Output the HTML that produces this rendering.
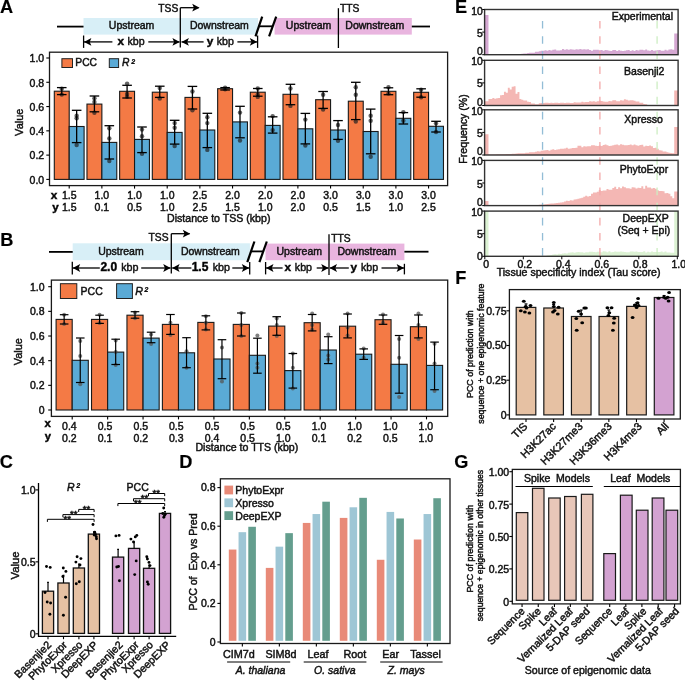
<!DOCTYPE html>
<html><head><meta charset="utf-8"><style>
html,body{margin:0;padding:0;background:#fff;}
svg{display:block;will-change:transform;}
text{font-family:"Liberation Sans",sans-serif;stroke:#111;stroke-width:0.45px;}
</style></head><body>
<svg width="685" height="680" viewBox="0 0 685 680">
<rect x="0" y="0" width="685" height="680" fill="#fff"/>
<text x="0" y="12.7" font-size="18.2" text-anchor="start" fill="#000" font-weight="bold" style="stroke-width:0.15px">A</text>
<text x="0.3" y="245.7" font-size="18.2" text-anchor="start" fill="#000" font-weight="bold" style="stroke-width:0.15px">B</text>
<text x="-0.3" y="468.3" font-size="18.2" text-anchor="start" fill="#000" font-weight="bold" style="stroke-width:0.15px">C</text>
<text x="179.2" y="468.1" font-size="18.2" text-anchor="start" fill="#000" font-weight="bold" style="stroke-width:0.15px">D</text>
<text x="455" y="13" font-size="18.2" text-anchor="start" fill="#000" font-weight="bold" style="stroke-width:0.15px">E</text>
<text x="455.2" y="283.7" font-size="18.2" text-anchor="start" fill="#000" font-weight="bold" style="stroke-width:0.15px">F</text>
<text x="454.3" y="468.3" font-size="18.2" text-anchor="start" fill="#000" font-weight="bold" style="stroke-width:0.15px">G</text>
<line x1="57" y1="26.6" x2="84" y2="26.6" stroke="#000" stroke-width="1.8" />
<rect x="83.5" y="18" width="174.5" height="16.6" fill="#d8eff7" />
<rect x="274.6" y="18" width="137.2" height="16.6" fill="#e9b5df" />
<line x1="411.8" y1="26.5" x2="430" y2="26.5" stroke="#000" stroke-width="1.8" />
<line x1="255.5" y1="36.3" x2="262.2" y2="16.6" stroke="#000" stroke-width="2.2" />
<line x1="269.1" y1="36.3" x2="276.2" y2="16.6" stroke="#000" stroke-width="2.2" />
<line x1="258.85" y1="26.3" x2="272.65" y2="26.3" stroke="#000" stroke-width="1.8" />
<text x="131.6" y="29.2" font-size="10.5" text-anchor="middle" fill="#111" >Upstream</text>
<text x="219.4" y="29.2" font-size="10.5" text-anchor="middle" fill="#111" >Downstream</text>
<text x="308.6" y="29.2" font-size="10.5" text-anchor="middle" fill="#111" >Upstream</text>
<text x="374.8" y="29.2" font-size="10.5" text-anchor="middle" fill="#111" >Downstream</text>
<line x1="180.3" y1="47.6" x2="180.3" y2="7.7" stroke="#000" stroke-width="1.3" />
<line x1="180.3" y1="7.7" x2="198.5" y2="7.7" stroke="#000" stroke-width="1.3" />
<path d="M199.6,7.7 L192.2,3.8 L193.9,7.7 L192.2,11.6 Z" fill="#000" stroke="none"/>
<text x="178.3" y="11.9" font-size="10.3" text-anchor="end" fill="#111" >TSS</text>
<line x1="338.4" y1="8.2" x2="338.4" y2="48" stroke="#000" stroke-width="1.3" />
<text x="340" y="12.4" font-size="10.3" text-anchor="start" fill="#111" >TTS</text>
<line x1="83.6" y1="35.5" x2="83.6" y2="47.9" stroke="#000" stroke-width="1.3" />
<line x1="257.6" y1="35.5" x2="257.6" y2="47.9" stroke="#000" stroke-width="1.3" />
<line x1="84" y1="41.9" x2="112.4" y2="41.9" stroke="#000" stroke-width="1.3" />
<path d="M84,41.9 L91.4,38 L89.7,41.9 L91.4,45.8 Z" fill="#000" stroke="none"/>
<line x1="148.3" y1="41.9" x2="179.5" y2="41.9" stroke="#000" stroke-width="1.3" />
<path d="M179.8,41.9 L172.4,38 L174.1,41.9 L172.4,45.8 Z" fill="#000" stroke="none"/>
<line x1="181.5" y1="41.9" x2="203.6" y2="41.9" stroke="#000" stroke-width="1.3" />
<path d="M181.5,41.9 L188.9,38 L187.2,41.9 L188.9,45.8 Z" fill="#000" stroke="none"/>
<line x1="237.4" y1="41.9" x2="257" y2="41.9" stroke="#000" stroke-width="1.3" />
<path d="M257.2,41.9 L249.8,38 L251.5,41.9 L249.8,45.8 Z" fill="#000" stroke="none"/>
<text x="117.6" y="44.8" font-size="11.8" text-anchor="start" fill="#000" font-weight="bold" >x</text>
<text x="127.5" y="44.8" font-size="10.6" text-anchor="start" fill="#111" >kbp</text>
<text x="206.8" y="44.8" font-size="11.8" text-anchor="start" fill="#000" font-weight="bold" >y</text>
<text x="216.8" y="44.8" font-size="10.6" text-anchor="start" fill="#111" >kbp</text>
<rect x="49.5" y="52.2" width="398.1" height="133.4" fill="#fff" stroke="#1a1a1a" stroke-width="1.3" />
<line x1="46.3" y1="179.4" x2="49.5" y2="179.4" stroke="#000" stroke-width="1.1" />
<text x="44.2" y="183.7" font-size="10.5" text-anchor="end" fill="#111" >0.0</text>
<line x1="46.3" y1="155.12" x2="49.5" y2="155.12" stroke="#000" stroke-width="1.1" />
<text x="44.2" y="159.42" font-size="10.5" text-anchor="end" fill="#111" >0.2</text>
<line x1="46.3" y1="130.84" x2="49.5" y2="130.84" stroke="#000" stroke-width="1.1" />
<text x="44.2" y="135.14" font-size="10.5" text-anchor="end" fill="#111" >0.4</text>
<line x1="46.3" y1="106.56" x2="49.5" y2="106.56" stroke="#000" stroke-width="1.1" />
<text x="44.2" y="110.86" font-size="10.5" text-anchor="end" fill="#111" >0.6</text>
<line x1="46.3" y1="82.28" x2="49.5" y2="82.28" stroke="#000" stroke-width="1.1" />
<text x="44.2" y="86.58" font-size="10.5" text-anchor="end" fill="#111" >0.8</text>
<line x1="46.3" y1="58" x2="49.5" y2="58" stroke="#000" stroke-width="1.1" />
<text x="44.2" y="62.3" font-size="10.5" text-anchor="end" fill="#111" >1.0</text>
<text x="23.3" y="122.2" font-size="11" text-anchor="middle" fill="#111" transform="rotate(-90 23.3 122.2)" >Value</text>
<rect x="61.9" y="58.7" width="10.6" height="8.8" fill="#f47a45" stroke="#222" stroke-width="1" />
<text x="75.3" y="66.3" font-size="10.3" text-anchor="start" fill="#111" >PCC</text>
<rect x="109.3" y="58.7" width="9.3" height="8.8" fill="#5aaad6" stroke="#222" stroke-width="1" />
<text x="122" y="66.3" font-size="10.3" text-anchor="start" fill="#111" font-style="italic" >R</text>
<text x="131.2" y="66.3" font-size="10.3" text-anchor="start" fill="#111" font-style="italic" >²</text>
<rect x="54.3" y="91.2" width="14.9" height="88.2" fill="#f47a45" stroke="#1a1a1a" stroke-width="1.1" />
<rect x="69.2" y="126.5" width="14.9" height="52.9" fill="#5aaad6" stroke="#1a1a1a" stroke-width="1.1" />
<rect x="86.97" y="104.1" width="14.9" height="75.3" fill="#f47a45" stroke="#1a1a1a" stroke-width="1.1" />
<rect x="101.87" y="142.4" width="14.9" height="37" fill="#5aaad6" stroke="#1a1a1a" stroke-width="1.1" />
<rect x="119.64" y="91.3" width="14.9" height="88.1" fill="#f47a45" stroke="#1a1a1a" stroke-width="1.1" />
<rect x="134.54" y="139.4" width="14.9" height="40" fill="#5aaad6" stroke="#1a1a1a" stroke-width="1.1" />
<rect x="152.31" y="92.2" width="14.9" height="87.2" fill="#f47a45" stroke="#1a1a1a" stroke-width="1.1" />
<rect x="167.21" y="132.4" width="14.9" height="47" fill="#5aaad6" stroke="#1a1a1a" stroke-width="1.1" />
<rect x="184.98" y="97.4" width="14.9" height="82" fill="#f47a45" stroke="#1a1a1a" stroke-width="1.1" />
<rect x="199.88" y="130" width="14.9" height="49.4" fill="#5aaad6" stroke="#1a1a1a" stroke-width="1.1" />
<rect x="217.65" y="88.7" width="14.9" height="90.7" fill="#f47a45" stroke="#1a1a1a" stroke-width="1.1" />
<rect x="232.55" y="121.9" width="14.9" height="57.5" fill="#5aaad6" stroke="#1a1a1a" stroke-width="1.1" />
<rect x="250.32" y="92.2" width="14.9" height="87.2" fill="#f47a45" stroke="#1a1a1a" stroke-width="1.1" />
<rect x="265.22" y="125.4" width="14.9" height="54" fill="#5aaad6" stroke="#1a1a1a" stroke-width="1.1" />
<rect x="282.99" y="94.3" width="14.9" height="85.1" fill="#f47a45" stroke="#1a1a1a" stroke-width="1.1" />
<rect x="297.89" y="128.8" width="14.9" height="50.6" fill="#5aaad6" stroke="#1a1a1a" stroke-width="1.1" />
<rect x="315.66" y="99.7" width="14.9" height="79.7" fill="#f47a45" stroke="#1a1a1a" stroke-width="1.1" />
<rect x="330.56" y="130" width="14.9" height="49.4" fill="#5aaad6" stroke="#1a1a1a" stroke-width="1.1" />
<rect x="348.33" y="101.2" width="14.9" height="78.2" fill="#f47a45" stroke="#1a1a1a" stroke-width="1.1" />
<rect x="363.23" y="131.5" width="14.9" height="47.9" fill="#5aaad6" stroke="#1a1a1a" stroke-width="1.1" />
<rect x="381" y="91.3" width="14.9" height="88.1" fill="#f47a45" stroke="#1a1a1a" stroke-width="1.1" />
<rect x="395.9" y="118.3" width="14.9" height="61.1" fill="#5aaad6" stroke="#1a1a1a" stroke-width="1.1" />
<rect x="413.67" y="92.3" width="14.9" height="87.1" fill="#f47a45" stroke="#1a1a1a" stroke-width="1.1" />
<rect x="428.57" y="126.3" width="14.9" height="53.1" fill="#5aaad6" stroke="#1a1a1a" stroke-width="1.1" />
<circle cx="61.75" cy="88.8" r="2.2" fill="#222" fill-opacity="0.7"/>
<circle cx="61.75" cy="94.6" r="2.2" fill="#222" fill-opacity="0.7"/>
<line x1="61.75" y1="87.6" x2="61.75" y2="94.6" stroke="#000" stroke-width="1.3" />
<line x1="56.95" y1="87.6" x2="66.55" y2="87.6" stroke="#000" stroke-width="1.3" />
<line x1="56.95" y1="94.6" x2="66.55" y2="94.6" stroke="#000" stroke-width="1.3" />
<circle cx="76.65" cy="115.8" r="2.2" fill="#222" fill-opacity="0.7"/>
<circle cx="76.65" cy="118.2" r="2.2" fill="#222" fill-opacity="0.7"/>
<circle cx="76.65" cy="145" r="2.2" fill="#222" fill-opacity="0.7"/>
<line x1="76.65" y1="110.3" x2="76.65" y2="142.6" stroke="#000" stroke-width="1.3" />
<line x1="71.85" y1="110.3" x2="81.45" y2="110.3" stroke="#000" stroke-width="1.3" />
<line x1="71.85" y1="142.6" x2="81.45" y2="142.6" stroke="#000" stroke-width="1.3" />
<line x1="69.2" y1="185.6" x2="69.2" y2="188.6" stroke="#000" stroke-width="1.1" />
<text x="69.2" y="199.2" font-size="10.5" text-anchor="middle" fill="#111" >1.5</text>
<text x="69.2" y="210.9" font-size="10.5" text-anchor="middle" fill="#111" >1.5</text>
<circle cx="94.42" cy="98.2" r="2.2" fill="#222" fill-opacity="0.7"/>
<circle cx="94.42" cy="101.9" r="2.2" fill="#222" fill-opacity="0.7"/>
<circle cx="94.42" cy="112.8" r="2.2" fill="#222" fill-opacity="0.7"/>
<line x1="94.42" y1="96" x2="94.42" y2="111.8" stroke="#000" stroke-width="1.3" />
<line x1="89.62" y1="96" x2="99.22" y2="96" stroke="#000" stroke-width="1.3" />
<line x1="89.62" y1="111.8" x2="99.22" y2="111.8" stroke="#000" stroke-width="1.3" />
<circle cx="109.32" cy="128.2" r="2.2" fill="#222" fill-opacity="0.7"/>
<circle cx="109.32" cy="138.4" r="2.2" fill="#222" fill-opacity="0.7"/>
<circle cx="109.32" cy="161" r="2.2" fill="#222" fill-opacity="0.7"/>
<line x1="109.32" y1="125.7" x2="109.32" y2="159" stroke="#000" stroke-width="1.3" />
<line x1="104.52" y1="125.7" x2="114.12" y2="125.7" stroke="#000" stroke-width="1.3" />
<line x1="104.52" y1="159" x2="114.12" y2="159" stroke="#000" stroke-width="1.3" />
<line x1="101.87" y1="185.6" x2="101.87" y2="188.6" stroke="#000" stroke-width="1.1" />
<text x="101.87" y="199.2" font-size="10.5" text-anchor="middle" fill="#111" >1.0</text>
<text x="101.87" y="210.9" font-size="10.5" text-anchor="middle" fill="#111" >0.1</text>
<circle cx="127.09" cy="83.6" r="2.2" fill="#222" fill-opacity="0.7"/>
<circle cx="127.09" cy="93.9" r="2.2" fill="#222" fill-opacity="0.7"/>
<circle cx="127.09" cy="96.8" r="2.2" fill="#222" fill-opacity="0.7"/>
<line x1="127.09" y1="85.3" x2="127.09" y2="98" stroke="#000" stroke-width="1.3" />
<line x1="122.29" y1="85.3" x2="131.89" y2="85.3" stroke="#000" stroke-width="1.3" />
<line x1="122.29" y1="98" x2="131.89" y2="98" stroke="#000" stroke-width="1.3" />
<circle cx="141.99" cy="129.6" r="2.2" fill="#222" fill-opacity="0.7"/>
<circle cx="141.99" cy="136.2" r="2.2" fill="#222" fill-opacity="0.7"/>
<circle cx="141.99" cy="153.7" r="2.2" fill="#222" fill-opacity="0.7"/>
<line x1="141.99" y1="127" x2="141.99" y2="152.6" stroke="#000" stroke-width="1.3" />
<line x1="137.19" y1="127" x2="146.79" y2="127" stroke="#000" stroke-width="1.3" />
<line x1="137.19" y1="152.6" x2="146.79" y2="152.6" stroke="#000" stroke-width="1.3" />
<line x1="134.54" y1="185.6" x2="134.54" y2="188.6" stroke="#000" stroke-width="1.1" />
<text x="134.54" y="199.2" font-size="10.5" text-anchor="middle" fill="#111" >1.0</text>
<text x="134.54" y="210.9" font-size="10.5" text-anchor="middle" fill="#111" >0.5</text>
<circle cx="159.76" cy="88" r="2.2" fill="#222" fill-opacity="0.7"/>
<circle cx="159.76" cy="98.5" r="2.2" fill="#222" fill-opacity="0.7"/>
<line x1="159.76" y1="86.2" x2="159.76" y2="97.4" stroke="#000" stroke-width="1.3" />
<line x1="154.96" y1="86.2" x2="164.56" y2="86.2" stroke="#000" stroke-width="1.3" />
<line x1="154.96" y1="97.4" x2="164.56" y2="97.4" stroke="#000" stroke-width="1.3" />
<circle cx="174.66" cy="123.1" r="2.2" fill="#222" fill-opacity="0.7"/>
<circle cx="174.66" cy="127.7" r="2.2" fill="#222" fill-opacity="0.7"/>
<circle cx="174.66" cy="146" r="2.2" fill="#222" fill-opacity="0.7"/>
<line x1="174.66" y1="120.3" x2="174.66" y2="144.1" stroke="#000" stroke-width="1.3" />
<line x1="169.86" y1="120.3" x2="179.46" y2="120.3" stroke="#000" stroke-width="1.3" />
<line x1="169.86" y1="144.1" x2="179.46" y2="144.1" stroke="#000" stroke-width="1.3" />
<line x1="167.21" y1="185.6" x2="167.21" y2="188.6" stroke="#000" stroke-width="1.1" />
<text x="167.21" y="199.2" font-size="10.5" text-anchor="middle" fill="#111" >1.0</text>
<text x="167.21" y="210.9" font-size="10.5" text-anchor="middle" fill="#111" >1.0</text>
<circle cx="192.43" cy="91.5" r="2.2" fill="#222" fill-opacity="0.7"/>
<circle cx="192.43" cy="110.2" r="2.2" fill="#222" fill-opacity="0.7"/>
<line x1="192.43" y1="86.4" x2="192.43" y2="109" stroke="#000" stroke-width="1.3" />
<line x1="187.63" y1="86.4" x2="197.23" y2="86.4" stroke="#000" stroke-width="1.3" />
<line x1="187.63" y1="109" x2="197.23" y2="109" stroke="#000" stroke-width="1.3" />
<circle cx="207.33" cy="117.2" r="2.2" fill="#222" fill-opacity="0.7"/>
<circle cx="207.33" cy="123.1" r="2.2" fill="#222" fill-opacity="0.7"/>
<circle cx="207.33" cy="149.9" r="2.2" fill="#222" fill-opacity="0.7"/>
<line x1="207.33" y1="113.3" x2="207.33" y2="147.6" stroke="#000" stroke-width="1.3" />
<line x1="202.53" y1="113.3" x2="212.13" y2="113.3" stroke="#000" stroke-width="1.3" />
<line x1="202.53" y1="147.6" x2="212.13" y2="147.6" stroke="#000" stroke-width="1.3" />
<line x1="199.88" y1="185.6" x2="199.88" y2="188.6" stroke="#000" stroke-width="1.1" />
<text x="199.88" y="199.2" font-size="10.5" text-anchor="middle" fill="#111" >2.5</text>
<text x="199.88" y="210.9" font-size="10.5" text-anchor="middle" fill="#111" >2.5</text>
<circle cx="225.1" cy="87.6" r="2.2" fill="#222" fill-opacity="0.7"/>
<circle cx="225.1" cy="89.2" r="2.2" fill="#222" fill-opacity="0.7"/>
<line x1="225.1" y1="87.6" x2="225.1" y2="90" stroke="#000" stroke-width="1.3" />
<line x1="220.3" y1="87.6" x2="229.9" y2="87.6" stroke="#000" stroke-width="1.3" />
<line x1="220.3" y1="90" x2="229.9" y2="90" stroke="#000" stroke-width="1.3" />
<circle cx="240" cy="112.6" r="2.2" fill="#222" fill-opacity="0.7"/>
<circle cx="240" cy="140.6" r="2.2" fill="#222" fill-opacity="0.7"/>
<line x1="240" y1="106.3" x2="240" y2="137.8" stroke="#000" stroke-width="1.3" />
<line x1="235.2" y1="106.3" x2="244.8" y2="106.3" stroke="#000" stroke-width="1.3" />
<line x1="235.2" y1="137.8" x2="244.8" y2="137.8" stroke="#000" stroke-width="1.3" />
<line x1="232.55" y1="185.6" x2="232.55" y2="188.6" stroke="#000" stroke-width="1.1" />
<text x="232.55" y="199.2" font-size="10.5" text-anchor="middle" fill="#111" >2.0</text>
<text x="232.55" y="210.9" font-size="10.5" text-anchor="middle" fill="#111" >1.5</text>
<circle cx="257.77" cy="88.5" r="2.2" fill="#222" fill-opacity="0.7"/>
<circle cx="257.77" cy="94.6" r="2.2" fill="#222" fill-opacity="0.7"/>
<circle cx="257.77" cy="96.9" r="2.2" fill="#222" fill-opacity="0.7"/>
<line x1="257.77" y1="88.5" x2="257.77" y2="96.2" stroke="#000" stroke-width="1.3" />
<line x1="252.97" y1="88.5" x2="262.57" y2="88.5" stroke="#000" stroke-width="1.3" />
<line x1="252.97" y1="96.2" x2="262.57" y2="96.2" stroke="#000" stroke-width="1.3" />
<circle cx="272.67" cy="116.1" r="2.2" fill="#222" fill-opacity="0.7"/>
<circle cx="272.67" cy="130.1" r="2.2" fill="#222" fill-opacity="0.7"/>
<line x1="272.67" y1="116.8" x2="272.67" y2="133.1" stroke="#000" stroke-width="1.3" />
<line x1="267.87" y1="116.8" x2="277.47" y2="116.8" stroke="#000" stroke-width="1.3" />
<line x1="267.87" y1="133.1" x2="277.47" y2="133.1" stroke="#000" stroke-width="1.3" />
<line x1="265.22" y1="185.6" x2="265.22" y2="188.6" stroke="#000" stroke-width="1.1" />
<text x="265.22" y="199.2" font-size="10.5" text-anchor="middle" fill="#111" >2.0</text>
<text x="265.22" y="210.9" font-size="10.5" text-anchor="middle" fill="#111" >1.0</text>
<circle cx="290.44" cy="88.5" r="2.2" fill="#222" fill-opacity="0.7"/>
<circle cx="290.44" cy="105.9" r="2.2" fill="#222" fill-opacity="0.7"/>
<line x1="290.44" y1="84.3" x2="290.44" y2="104.7" stroke="#000" stroke-width="1.3" />
<line x1="285.64" y1="84.3" x2="295.24" y2="84.3" stroke="#000" stroke-width="1.3" />
<line x1="285.64" y1="104.7" x2="295.24" y2="104.7" stroke="#000" stroke-width="1.3" />
<circle cx="305.34" cy="119.6" r="2.2" fill="#222" fill-opacity="0.7"/>
<circle cx="305.34" cy="145.6" r="2.2" fill="#222" fill-opacity="0.7"/>
<line x1="305.34" y1="113.4" x2="305.34" y2="143.9" stroke="#000" stroke-width="1.3" />
<line x1="300.54" y1="113.4" x2="310.14" y2="113.4" stroke="#000" stroke-width="1.3" />
<line x1="300.54" y1="143.9" x2="310.14" y2="143.9" stroke="#000" stroke-width="1.3" />
<line x1="297.89" y1="185.6" x2="297.89" y2="188.6" stroke="#000" stroke-width="1.1" />
<text x="297.89" y="199.2" font-size="10.5" text-anchor="middle" fill="#111" >2.0</text>
<text x="297.89" y="210.9" font-size="10.5" text-anchor="middle" fill="#111" >2.0</text>
<circle cx="323.11" cy="94.7" r="2.2" fill="#222" fill-opacity="0.7"/>
<circle cx="323.11" cy="109.6" r="2.2" fill="#222" fill-opacity="0.7"/>
<line x1="323.11" y1="91.5" x2="323.11" y2="108.4" stroke="#000" stroke-width="1.3" />
<line x1="318.31" y1="91.5" x2="327.91" y2="91.5" stroke="#000" stroke-width="1.3" />
<line x1="318.31" y1="108.4" x2="327.91" y2="108.4" stroke="#000" stroke-width="1.3" />
<circle cx="338.01" cy="125" r="2.2" fill="#222" fill-opacity="0.7"/>
<circle cx="338.01" cy="140.7" r="2.2" fill="#222" fill-opacity="0.7"/>
<line x1="338.01" y1="120.6" x2="338.01" y2="139.4" stroke="#000" stroke-width="1.3" />
<line x1="333.21" y1="120.6" x2="342.81" y2="120.6" stroke="#000" stroke-width="1.3" />
<line x1="333.21" y1="139.4" x2="342.81" y2="139.4" stroke="#000" stroke-width="1.3" />
<line x1="330.56" y1="185.6" x2="330.56" y2="188.6" stroke="#000" stroke-width="1.1" />
<text x="330.56" y="199.2" font-size="10.5" text-anchor="middle" fill="#111" >3.0</text>
<text x="330.56" y="210.9" font-size="10.5" text-anchor="middle" fill="#111" >0.5</text>
<circle cx="355.78" cy="87.3" r="2.2" fill="#222" fill-opacity="0.7"/>
<circle cx="355.78" cy="94.7" r="2.2" fill="#222" fill-opacity="0.7"/>
<circle cx="355.78" cy="121.6" r="2.2" fill="#222" fill-opacity="0.7"/>
<line x1="355.78" y1="82.3" x2="355.78" y2="119.6" stroke="#000" stroke-width="1.3" />
<line x1="350.98" y1="82.3" x2="360.58" y2="82.3" stroke="#000" stroke-width="1.3" />
<line x1="350.98" y1="119.6" x2="360.58" y2="119.6" stroke="#000" stroke-width="1.3" />
<circle cx="370.68" cy="115.8" r="2.2" fill="#222" fill-opacity="0.7"/>
<circle cx="370.68" cy="120.8" r="2.2" fill="#222" fill-opacity="0.7"/>
<circle cx="370.68" cy="156.8" r="2.2" fill="#222" fill-opacity="0.7"/>
<line x1="370.68" y1="109.1" x2="370.68" y2="153.8" stroke="#000" stroke-width="1.3" />
<line x1="365.88" y1="109.1" x2="375.48" y2="109.1" stroke="#000" stroke-width="1.3" />
<line x1="365.88" y1="153.8" x2="375.48" y2="153.8" stroke="#000" stroke-width="1.3" />
<line x1="363.23" y1="185.6" x2="363.23" y2="188.6" stroke="#000" stroke-width="1.1" />
<text x="363.23" y="199.2" font-size="10.5" text-anchor="middle" fill="#111" >3.0</text>
<text x="363.23" y="210.9" font-size="10.5" text-anchor="middle" fill="#111" >1.5</text>
<circle cx="388.45" cy="87.3" r="2.2" fill="#222" fill-opacity="0.7"/>
<circle cx="388.45" cy="93.5" r="2.2" fill="#222" fill-opacity="0.7"/>
<line x1="388.45" y1="87.8" x2="388.45" y2="94.7" stroke="#000" stroke-width="1.3" />
<line x1="383.65" y1="87.8" x2="393.25" y2="87.8" stroke="#000" stroke-width="1.3" />
<line x1="383.65" y1="94.7" x2="393.25" y2="94.7" stroke="#000" stroke-width="1.3" />
<circle cx="403.35" cy="112.1" r="2.2" fill="#222" fill-opacity="0.7"/>
<circle cx="403.35" cy="120.8" r="2.2" fill="#222" fill-opacity="0.7"/>
<line x1="403.35" y1="112.6" x2="403.35" y2="124" stroke="#000" stroke-width="1.3" />
<line x1="398.55" y1="112.6" x2="408.15" y2="112.6" stroke="#000" stroke-width="1.3" />
<line x1="398.55" y1="124" x2="408.15" y2="124" stroke="#000" stroke-width="1.3" />
<line x1="395.9" y1="185.6" x2="395.9" y2="188.6" stroke="#000" stroke-width="1.1" />
<text x="395.9" y="199.2" font-size="10.5" text-anchor="middle" fill="#111" >3.0</text>
<text x="395.9" y="210.9" font-size="10.5" text-anchor="middle" fill="#111" >1.0</text>
<circle cx="421.12" cy="89.8" r="2.2" fill="#222" fill-opacity="0.7"/>
<circle cx="421.12" cy="97.2" r="2.2" fill="#222" fill-opacity="0.7"/>
<line x1="421.12" y1="88.8" x2="421.12" y2="97.2" stroke="#000" stroke-width="1.3" />
<line x1="416.32" y1="88.8" x2="425.92" y2="88.8" stroke="#000" stroke-width="1.3" />
<line x1="416.32" y1="97.2" x2="425.92" y2="97.2" stroke="#000" stroke-width="1.3" />
<circle cx="436.02" cy="123.3" r="2.2" fill="#222" fill-opacity="0.7"/>
<circle cx="436.02" cy="132" r="2.2" fill="#222" fill-opacity="0.7"/>
<line x1="436.02" y1="121.3" x2="436.02" y2="132" stroke="#000" stroke-width="1.3" />
<line x1="431.22" y1="121.3" x2="440.82" y2="121.3" stroke="#000" stroke-width="1.3" />
<line x1="431.22" y1="132" x2="440.82" y2="132" stroke="#000" stroke-width="1.3" />
<line x1="428.57" y1="185.6" x2="428.57" y2="188.6" stroke="#000" stroke-width="1.1" />
<text x="428.57" y="199.2" font-size="10.5" text-anchor="middle" fill="#111" >3.0</text>
<text x="428.57" y="210.9" font-size="10.5" text-anchor="middle" fill="#111" >2.5</text>
<text x="57.4" y="199.2" font-size="11.8" text-anchor="end" fill="#000" font-weight="bold" >x</text>
<text x="58.6" y="210.9" font-size="11.6" text-anchor="end" fill="#000" font-weight="bold" >y</text>
<text x="167" y="222.1" font-size="10.6" text-anchor="start" fill="#111" >Distance to TSS (kbp)</text>
<line x1="49" y1="251.9" x2="73" y2="251.9" stroke="#000" stroke-width="1.8" />
<rect x="72.7" y="243.3" width="177.2" height="16.9" fill="#d8eff7" />
<rect x="265.5" y="243.6" width="138.9" height="16.6" fill="#e9b5df" />
<line x1="404.4" y1="251.7" x2="428.5" y2="251.7" stroke="#000" stroke-width="1.8" />
<line x1="247.3" y1="262.2" x2="254.4" y2="241.5" stroke="#000" stroke-width="2.2" />
<line x1="259.4" y1="262.2" x2="266.8" y2="241.5" stroke="#000" stroke-width="2.2" />
<line x1="250.85" y1="251.4" x2="263.1" y2="251.4" stroke="#000" stroke-width="1.8" />
<text x="120.9" y="254.6" font-size="10.5" text-anchor="middle" fill="#111" >Upstream</text>
<text x="210.4" y="254.6" font-size="10.5" text-anchor="middle" fill="#111" >Downstream</text>
<text x="299.3" y="254.6" font-size="10.5" text-anchor="middle" fill="#111" >Upstream</text>
<text x="366.9" y="254.6" font-size="10.5" text-anchor="middle" fill="#111" >Downstream</text>
<line x1="171.3" y1="273.6" x2="171.3" y2="233.7" stroke="#000" stroke-width="1.3" />
<line x1="171.3" y1="233.7" x2="189.6" y2="233.7" stroke="#000" stroke-width="1.3" />
<path d="M190.2,233.7 L182.8,229.8 L184.5,233.7 L182.8,237.6 Z" fill="#000" stroke="none"/>
<text x="168.6" y="241.2" font-size="10.3" text-anchor="end" fill="#111" >TSS</text>
<line x1="329" y1="234.2" x2="329" y2="275" stroke="#000" stroke-width="1.3" />
<text x="331.2" y="241.5" font-size="10.3" text-anchor="start" fill="#111" >TTS</text>
<line x1="72.3" y1="261.7" x2="72.3" y2="274.4" stroke="#000" stroke-width="1.3" />
<line x1="249.7" y1="262" x2="249.7" y2="274.4" stroke="#000" stroke-width="1.3" />
<line x1="265.6" y1="262" x2="265.6" y2="274.4" stroke="#000" stroke-width="1.3" />
<line x1="404.4" y1="263.8" x2="404.4" y2="274.4" stroke="#000" stroke-width="1.3" />
<line x1="72.8" y1="268" x2="99.8" y2="268" stroke="#000" stroke-width="1.3" />
<path d="M72.8,268 L80.2,264.1 L78.5,268 L80.2,271.9 Z" fill="#000" stroke="none"/>
<line x1="141.2" y1="268" x2="170.5" y2="268" stroke="#000" stroke-width="1.3" />
<path d="M170.6,268 L163.2,264.1 L164.9,268 L163.2,271.9 Z" fill="#000" stroke="none"/>
<line x1="172.2" y1="268" x2="191.4" y2="268" stroke="#000" stroke-width="1.3" />
<path d="M172.2,268 L179.6,264.1 L177.9,268 L179.6,271.9 Z" fill="#000" stroke="none"/>
<line x1="232.3" y1="268" x2="249" y2="268" stroke="#000" stroke-width="1.3" />
<path d="M249.2,268 L241.8,264.1 L243.5,268 L241.8,271.9 Z" fill="#000" stroke="none"/>
<line x1="266" y1="268" x2="282.6" y2="268" stroke="#000" stroke-width="1.3" />
<path d="M266.1,268 L273.5,264.1 L271.8,268 L273.5,271.9 Z" fill="#000" stroke="none"/>
<line x1="316.7" y1="268" x2="328.5" y2="268" stroke="#000" stroke-width="1.3" />
<path d="M328.6,268 L321.2,264.1 L322.9,268 L321.2,271.9 Z" fill="#000" stroke="none"/>
<line x1="330" y1="268" x2="348.8" y2="268" stroke="#000" stroke-width="1.3" />
<path d="M329.6,268 L337,264.1 L335.3,268 L337,271.9 Z" fill="#000" stroke="none"/>
<line x1="381.5" y1="268" x2="404" y2="268" stroke="#000" stroke-width="1.3" />
<path d="M404,268 L396.6,264.1 L398.3,268 L396.6,271.9 Z" fill="#000" stroke="none"/>
<text x="100.4" y="271.2" font-size="12" text-anchor="start" fill="#000" font-weight="bold" >2.0</text>
<text x="121.2" y="271.2" font-size="10.7" text-anchor="start" fill="#111" >kbp</text>
<text x="191.7" y="271.2" font-size="12" text-anchor="start" fill="#000" font-weight="bold" >1.5</text>
<text x="212.7" y="271.2" font-size="10.7" text-anchor="start" fill="#111" >kbp</text>
<text x="284.4" y="271.2" font-size="11.8" text-anchor="start" fill="#000" font-weight="bold" >x</text>
<text x="294.8" y="271.2" font-size="10.7" text-anchor="start" fill="#111" >kbp</text>
<text x="350.5" y="271.2" font-size="11.8" text-anchor="start" fill="#000" font-weight="bold" >y</text>
<text x="361" y="271.2" font-size="10.7" text-anchor="start" fill="#111" >kbp</text>
<rect x="51.4" y="280.1" width="396.3" height="136.3" fill="#fff" stroke="#1a1a1a" stroke-width="1.3" />
<line x1="48.2" y1="410" x2="51.4" y2="410" stroke="#000" stroke-width="1.1" />
<text x="44.5" y="414" font-size="10.5" text-anchor="end" fill="#111" >0</text>
<line x1="48.2" y1="385.34" x2="51.4" y2="385.34" stroke="#000" stroke-width="1.1" />
<text x="44.5" y="389.34" font-size="10.5" text-anchor="end" fill="#111" >0.2</text>
<line x1="48.2" y1="360.68" x2="51.4" y2="360.68" stroke="#000" stroke-width="1.1" />
<text x="44.5" y="364.68" font-size="10.5" text-anchor="end" fill="#111" >0.4</text>
<line x1="48.2" y1="336.02" x2="51.4" y2="336.02" stroke="#000" stroke-width="1.1" />
<text x="44.5" y="340.02" font-size="10.5" text-anchor="end" fill="#111" >0.6</text>
<line x1="48.2" y1="311.36" x2="51.4" y2="311.36" stroke="#000" stroke-width="1.1" />
<text x="44.5" y="315.36" font-size="10.5" text-anchor="end" fill="#111" >0.8</text>
<line x1="48.2" y1="286.7" x2="51.4" y2="286.7" stroke="#000" stroke-width="1.1" />
<text x="44.5" y="290.7" font-size="10.5" text-anchor="end" fill="#111" >1.0</text>
<text x="21.9" y="351.7" font-size="11" text-anchor="middle" fill="#111" transform="rotate(-90 21.9 351.7)" >Value</text>
<rect x="60.4" y="283.7" width="16.4" height="14.8" fill="#f47a45" stroke="#222" stroke-width="1" />
<text x="80.6" y="294.8" font-size="10.5" text-anchor="start" fill="#111" >PCC</text>
<rect x="116.6" y="283.7" width="15.8" height="14.8" fill="#5aaad6" stroke="#222" stroke-width="1" />
<text x="135.3" y="294.8" font-size="10.8" text-anchor="start" fill="#111" font-style="italic" >R</text>
<text x="144.3" y="294.8" font-size="10.8" text-anchor="start" fill="#111" font-style="italic" >²</text>
<rect x="56.1" y="319.4" width="16.1" height="90.6" fill="#f47a45" stroke="#1a1a1a" stroke-width="1.1" />
<rect x="72.2" y="360.3" width="16.1" height="49.7" fill="#5aaad6" stroke="#1a1a1a" stroke-width="1.1" />
<rect x="91.53" y="319.4" width="16.1" height="90.6" fill="#f47a45" stroke="#1a1a1a" stroke-width="1.1" />
<rect x="107.63" y="352.1" width="16.1" height="57.9" fill="#5aaad6" stroke="#1a1a1a" stroke-width="1.1" />
<rect x="126.96" y="315.2" width="16.1" height="94.8" fill="#f47a45" stroke="#1a1a1a" stroke-width="1.1" />
<rect x="143.06" y="338.1" width="16.1" height="71.9" fill="#5aaad6" stroke="#1a1a1a" stroke-width="1.1" />
<rect x="162.39" y="324.4" width="16.1" height="85.6" fill="#f47a45" stroke="#1a1a1a" stroke-width="1.1" />
<rect x="178.49" y="352.8" width="16.1" height="57.2" fill="#5aaad6" stroke="#1a1a1a" stroke-width="1.1" />
<rect x="197.82" y="322.4" width="16.1" height="87.6" fill="#f47a45" stroke="#1a1a1a" stroke-width="1.1" />
<rect x="213.92" y="359" width="16.1" height="51" fill="#5aaad6" stroke="#1a1a1a" stroke-width="1.1" />
<rect x="233.25" y="324.4" width="16.1" height="85.6" fill="#f47a45" stroke="#1a1a1a" stroke-width="1.1" />
<rect x="249.35" y="355.3" width="16.1" height="54.7" fill="#5aaad6" stroke="#1a1a1a" stroke-width="1.1" />
<rect x="268.68" y="326.1" width="16.1" height="83.9" fill="#f47a45" stroke="#1a1a1a" stroke-width="1.1" />
<rect x="284.78" y="370.6" width="16.1" height="39.4" fill="#5aaad6" stroke="#1a1a1a" stroke-width="1.1" />
<rect x="304.11" y="322.7" width="16.1" height="87.3" fill="#f47a45" stroke="#1a1a1a" stroke-width="1.1" />
<rect x="320.21" y="350" width="16.1" height="60" fill="#5aaad6" stroke="#1a1a1a" stroke-width="1.1" />
<rect x="339.54" y="326.2" width="16.1" height="83.8" fill="#f47a45" stroke="#1a1a1a" stroke-width="1.1" />
<rect x="355.64" y="354.2" width="16.1" height="55.8" fill="#5aaad6" stroke="#1a1a1a" stroke-width="1.1" />
<rect x="374.97" y="319.7" width="16.1" height="90.3" fill="#f47a45" stroke="#1a1a1a" stroke-width="1.1" />
<rect x="391.07" y="364.3" width="16.1" height="45.7" fill="#5aaad6" stroke="#1a1a1a" stroke-width="1.1" />
<rect x="410.4" y="326.7" width="16.1" height="83.3" fill="#f47a45" stroke="#1a1a1a" stroke-width="1.1" />
<rect x="426.5" y="365.4" width="16.1" height="44.6" fill="#5aaad6" stroke="#1a1a1a" stroke-width="1.1" />
<circle cx="64.15" cy="314.7" r="2" fill="#555" fill-opacity="0.75"/>
<circle cx="64.15" cy="324" r="2" fill="#555" fill-opacity="0.75"/>
<line x1="64.15" y1="314.7" x2="64.15" y2="324" stroke="#000" stroke-width="1.2" />
<line x1="59.85" y1="314.7" x2="68.45" y2="314.7" stroke="#000" stroke-width="1.2" />
<line x1="59.85" y1="324" x2="68.45" y2="324" stroke="#000" stroke-width="1.2" />
<circle cx="80.25" cy="340.9" r="2" fill="#555" fill-opacity="0.75"/>
<circle cx="80.25" cy="356.1" r="2" fill="#555" fill-opacity="0.75"/>
<circle cx="80.25" cy="384.3" r="2" fill="#555" fill-opacity="0.75"/>
<line x1="80.25" y1="338" x2="80.25" y2="382.5" stroke="#000" stroke-width="1.2" />
<line x1="75.95" y1="338" x2="84.55" y2="338" stroke="#000" stroke-width="1.2" />
<line x1="75.95" y1="382.5" x2="84.55" y2="382.5" stroke="#000" stroke-width="1.2" />
<line x1="72.2" y1="416.4" x2="72.2" y2="419.4" stroke="#000" stroke-width="1.1" />
<text x="69.4" y="429.8" font-size="10.5" text-anchor="middle" fill="#111" >0.4</text>
<text x="69.4" y="441.6" font-size="10.5" text-anchor="middle" fill="#111" >0.2</text>
<circle cx="99.58" cy="314.7" r="2" fill="#555" fill-opacity="0.75"/>
<circle cx="99.58" cy="322.9" r="2" fill="#555" fill-opacity="0.75"/>
<line x1="99.58" y1="315.2" x2="99.58" y2="323.4" stroke="#000" stroke-width="1.2" />
<line x1="95.28" y1="315.2" x2="103.88" y2="315.2" stroke="#000" stroke-width="1.2" />
<line x1="95.28" y1="323.4" x2="103.88" y2="323.4" stroke="#000" stroke-width="1.2" />
<circle cx="115.68" cy="340.4" r="2" fill="#555" fill-opacity="0.75"/>
<circle cx="115.68" cy="352.1" r="2" fill="#555" fill-opacity="0.75"/>
<circle cx="115.68" cy="364.9" r="2" fill="#555" fill-opacity="0.75"/>
<line x1="115.68" y1="339.2" x2="115.68" y2="364.5" stroke="#000" stroke-width="1.2" />
<line x1="111.38" y1="339.2" x2="119.98" y2="339.2" stroke="#000" stroke-width="1.2" />
<line x1="111.38" y1="364.5" x2="119.98" y2="364.5" stroke="#000" stroke-width="1.2" />
<line x1="107.63" y1="416.4" x2="107.63" y2="419.4" stroke="#000" stroke-width="1.1" />
<text x="105.05" y="429.8" font-size="10.5" text-anchor="middle" fill="#111" >0.5</text>
<text x="105.05" y="441.6" font-size="10.5" text-anchor="middle" fill="#111" >0.1</text>
<circle cx="135.01" cy="312.4" r="2" fill="#555" fill-opacity="0.75"/>
<circle cx="135.01" cy="318.2" r="2" fill="#555" fill-opacity="0.75"/>
<line x1="135.01" y1="311.7" x2="135.01" y2="318.2" stroke="#000" stroke-width="1.2" />
<line x1="130.71" y1="311.7" x2="139.31" y2="311.7" stroke="#000" stroke-width="1.2" />
<line x1="130.71" y1="318.2" x2="139.31" y2="318.2" stroke="#000" stroke-width="1.2" />
<circle cx="151.11" cy="334.6" r="2" fill="#555" fill-opacity="0.75"/>
<circle cx="151.11" cy="343.9" r="2" fill="#555" fill-opacity="0.75"/>
<line x1="151.11" y1="332.2" x2="151.11" y2="342.7" stroke="#000" stroke-width="1.2" />
<line x1="146.81" y1="332.2" x2="155.41" y2="332.2" stroke="#000" stroke-width="1.2" />
<line x1="146.81" y1="342.7" x2="155.41" y2="342.7" stroke="#000" stroke-width="1.2" />
<line x1="143.06" y1="416.4" x2="143.06" y2="419.4" stroke="#000" stroke-width="1.1" />
<text x="140.7" y="429.8" font-size="10.5" text-anchor="middle" fill="#111" >0.5</text>
<text x="140.7" y="441.6" font-size="10.5" text-anchor="middle" fill="#111" >0.2</text>
<circle cx="170.44" cy="322.8" r="2" fill="#555" fill-opacity="0.75"/>
<circle cx="170.44" cy="334.9" r="2" fill="#555" fill-opacity="0.75"/>
<line x1="170.44" y1="314.5" x2="170.44" y2="334.4" stroke="#000" stroke-width="1.2" />
<line x1="166.14" y1="314.5" x2="174.74" y2="314.5" stroke="#000" stroke-width="1.2" />
<line x1="166.14" y1="334.4" x2="174.74" y2="334.4" stroke="#000" stroke-width="1.2" />
<circle cx="186.54" cy="351.3" r="2" fill="#555" fill-opacity="0.75"/>
<circle cx="186.54" cy="367.7" r="2" fill="#555" fill-opacity="0.75"/>
<line x1="186.54" y1="337.7" x2="186.54" y2="367.7" stroke="#000" stroke-width="1.2" />
<line x1="182.24" y1="337.7" x2="190.84" y2="337.7" stroke="#000" stroke-width="1.2" />
<line x1="182.24" y1="367.7" x2="190.84" y2="367.7" stroke="#000" stroke-width="1.2" />
<line x1="178.49" y1="416.4" x2="178.49" y2="419.4" stroke="#000" stroke-width="1.1" />
<text x="176.35" y="429.8" font-size="10.5" text-anchor="middle" fill="#111" >0.5</text>
<text x="176.35" y="441.6" font-size="10.5" text-anchor="middle" fill="#111" >0.3</text>
<circle cx="205.87" cy="316.3" r="2" fill="#555" fill-opacity="0.75"/>
<circle cx="205.87" cy="322.8" r="2" fill="#555" fill-opacity="0.75"/>
<circle cx="205.87" cy="329.4" r="2" fill="#555" fill-opacity="0.75"/>
<line x1="205.87" y1="315.8" x2="205.87" y2="329.9" stroke="#000" stroke-width="1.2" />
<line x1="201.57" y1="315.8" x2="210.17" y2="315.8" stroke="#000" stroke-width="1.2" />
<line x1="201.57" y1="329.9" x2="210.17" y2="329.9" stroke="#000" stroke-width="1.2" />
<circle cx="221.97" cy="347.4" r="2" fill="#555" fill-opacity="0.75"/>
<circle cx="221.97" cy="381.5" r="2" fill="#555" fill-opacity="0.75"/>
<line x1="221.97" y1="339.7" x2="221.97" y2="378.7" stroke="#000" stroke-width="1.2" />
<line x1="217.67" y1="339.7" x2="226.27" y2="339.7" stroke="#000" stroke-width="1.2" />
<line x1="217.67" y1="378.7" x2="226.27" y2="378.7" stroke="#000" stroke-width="1.2" />
<line x1="213.92" y1="416.4" x2="213.92" y2="419.4" stroke="#000" stroke-width="1.1" />
<text x="212" y="429.8" font-size="10.5" text-anchor="middle" fill="#111" >0.5</text>
<text x="212" y="441.6" font-size="10.5" text-anchor="middle" fill="#111" >0.4</text>
<circle cx="241.3" cy="313" r="2" fill="#555" fill-opacity="0.75"/>
<circle cx="241.3" cy="325" r="2" fill="#555" fill-opacity="0.75"/>
<circle cx="241.3" cy="336" r="2" fill="#555" fill-opacity="0.75"/>
<line x1="241.3" y1="313" x2="241.3" y2="336" stroke="#000" stroke-width="1.2" />
<line x1="237" y1="313" x2="245.6" y2="313" stroke="#000" stroke-width="1.2" />
<line x1="237" y1="336" x2="245.6" y2="336" stroke="#000" stroke-width="1.2" />
<circle cx="257.4" cy="335.5" r="2" fill="#555" fill-opacity="0.75"/>
<circle cx="257.4" cy="363.4" r="2" fill="#555" fill-opacity="0.75"/>
<circle cx="257.4" cy="367.7" r="2" fill="#555" fill-opacity="0.75"/>
<line x1="257.4" y1="338.2" x2="257.4" y2="373.2" stroke="#000" stroke-width="1.2" />
<line x1="253.1" y1="338.2" x2="261.7" y2="338.2" stroke="#000" stroke-width="1.2" />
<line x1="253.1" y1="373.2" x2="261.7" y2="373.2" stroke="#000" stroke-width="1.2" />
<line x1="249.35" y1="416.4" x2="249.35" y2="419.4" stroke="#000" stroke-width="1.1" />
<text x="247.65" y="429.8" font-size="10.5" text-anchor="middle" fill="#111" >0.5</text>
<text x="247.65" y="441.6" font-size="10.5" text-anchor="middle" fill="#111" >0.5</text>
<circle cx="276.73" cy="318.5" r="2" fill="#555" fill-opacity="0.75"/>
<circle cx="276.73" cy="325" r="2" fill="#555" fill-opacity="0.75"/>
<circle cx="276.73" cy="336" r="2" fill="#555" fill-opacity="0.75"/>
<line x1="276.73" y1="316.7" x2="276.73" y2="335.3" stroke="#000" stroke-width="1.2" />
<line x1="272.43" y1="316.7" x2="281.03" y2="316.7" stroke="#000" stroke-width="1.2" />
<line x1="272.43" y1="335.3" x2="281.03" y2="335.3" stroke="#000" stroke-width="1.2" />
<circle cx="292.83" cy="353.5" r="2" fill="#555" fill-opacity="0.75"/>
<circle cx="292.83" cy="367.7" r="2" fill="#555" fill-opacity="0.75"/>
<circle cx="292.83" cy="388.5" r="2" fill="#555" fill-opacity="0.75"/>
<line x1="292.83" y1="353.5" x2="292.83" y2="388.1" stroke="#000" stroke-width="1.2" />
<line x1="288.53" y1="353.5" x2="297.13" y2="353.5" stroke="#000" stroke-width="1.2" />
<line x1="288.53" y1="388.1" x2="297.13" y2="388.1" stroke="#000" stroke-width="1.2" />
<line x1="284.78" y1="416.4" x2="284.78" y2="419.4" stroke="#000" stroke-width="1.1" />
<text x="283.3" y="429.8" font-size="10.5" text-anchor="middle" fill="#111" >0.5</text>
<text x="283.3" y="441.6" font-size="10.5" text-anchor="middle" fill="#111" >1.0</text>
<circle cx="312.16" cy="313.4" r="2" fill="#555" fill-opacity="0.75"/>
<circle cx="312.16" cy="325" r="2" fill="#555" fill-opacity="0.75"/>
<circle cx="312.16" cy="329.7" r="2" fill="#555" fill-opacity="0.75"/>
<line x1="312.16" y1="314.5" x2="312.16" y2="330.9" stroke="#000" stroke-width="1.2" />
<line x1="307.86" y1="314.5" x2="316.46" y2="314.5" stroke="#000" stroke-width="1.2" />
<line x1="307.86" y1="330.9" x2="316.46" y2="330.9" stroke="#000" stroke-width="1.2" />
<circle cx="328.26" cy="334.4" r="2" fill="#555" fill-opacity="0.75"/>
<circle cx="328.26" cy="355.4" r="2" fill="#555" fill-opacity="0.75"/>
<circle cx="328.26" cy="359.4" r="2" fill="#555" fill-opacity="0.75"/>
<line x1="328.26" y1="336.7" x2="328.26" y2="363.6" stroke="#000" stroke-width="1.2" />
<line x1="323.96" y1="336.7" x2="332.56" y2="336.7" stroke="#000" stroke-width="1.2" />
<line x1="323.96" y1="363.6" x2="332.56" y2="363.6" stroke="#000" stroke-width="1.2" />
<line x1="320.21" y1="416.4" x2="320.21" y2="419.4" stroke="#000" stroke-width="1.1" />
<text x="318.95" y="429.8" font-size="10.5" text-anchor="middle" fill="#111" >1.0</text>
<text x="318.95" y="441.6" font-size="10.5" text-anchor="middle" fill="#111" >0.1</text>
<circle cx="347.59" cy="313.4" r="2" fill="#555" fill-opacity="0.75"/>
<circle cx="347.59" cy="327.4" r="2" fill="#555" fill-opacity="0.75"/>
<circle cx="347.59" cy="335.5" r="2" fill="#555" fill-opacity="0.75"/>
<line x1="347.59" y1="314" x2="347.59" y2="337.9" stroke="#000" stroke-width="1.2" />
<line x1="343.29" y1="314" x2="351.89" y2="314" stroke="#000" stroke-width="1.2" />
<line x1="343.29" y1="337.9" x2="351.89" y2="337.9" stroke="#000" stroke-width="1.2" />
<circle cx="363.69" cy="348.4" r="2" fill="#555" fill-opacity="0.75"/>
<circle cx="363.69" cy="357.7" r="2" fill="#555" fill-opacity="0.75"/>
<line x1="363.69" y1="348.9" x2="363.69" y2="359.4" stroke="#000" stroke-width="1.2" />
<line x1="359.39" y1="348.9" x2="367.99" y2="348.9" stroke="#000" stroke-width="1.2" />
<line x1="359.39" y1="359.4" x2="367.99" y2="359.4" stroke="#000" stroke-width="1.2" />
<line x1="355.64" y1="416.4" x2="355.64" y2="419.4" stroke="#000" stroke-width="1.1" />
<text x="354.6" y="429.8" font-size="10.5" text-anchor="middle" fill="#111" >1.0</text>
<text x="354.6" y="441.6" font-size="10.5" text-anchor="middle" fill="#111" >0.2</text>
<circle cx="383.02" cy="314.5" r="2" fill="#555" fill-opacity="0.75"/>
<circle cx="383.02" cy="322.7" r="2" fill="#555" fill-opacity="0.75"/>
<line x1="383.02" y1="315" x2="383.02" y2="324.3" stroke="#000" stroke-width="1.2" />
<line x1="378.72" y1="315" x2="387.32" y2="315" stroke="#000" stroke-width="1.2" />
<line x1="378.72" y1="324.3" x2="387.32" y2="324.3" stroke="#000" stroke-width="1.2" />
<circle cx="399.12" cy="339" r="2" fill="#555" fill-opacity="0.75"/>
<circle cx="399.12" cy="357.7" r="2" fill="#555" fill-opacity="0.75"/>
<circle cx="399.12" cy="397" r="2" fill="#555" fill-opacity="0.75"/>
<line x1="399.12" y1="335.5" x2="399.12" y2="393.2" stroke="#000" stroke-width="1.2" />
<line x1="394.82" y1="335.5" x2="403.42" y2="335.5" stroke="#000" stroke-width="1.2" />
<line x1="394.82" y1="393.2" x2="403.42" y2="393.2" stroke="#000" stroke-width="1.2" />
<line x1="391.07" y1="416.4" x2="391.07" y2="419.4" stroke="#000" stroke-width="1.1" />
<text x="390.25" y="429.8" font-size="10.5" text-anchor="middle" fill="#111" >1.0</text>
<text x="390.25" y="441.6" font-size="10.5" text-anchor="middle" fill="#111" >0.5</text>
<circle cx="418.45" cy="313.4" r="2" fill="#555" fill-opacity="0.75"/>
<circle cx="418.45" cy="325" r="2" fill="#555" fill-opacity="0.75"/>
<circle cx="418.45" cy="339" r="2" fill="#555" fill-opacity="0.75"/>
<line x1="418.45" y1="315" x2="418.45" y2="337.9" stroke="#000" stroke-width="1.2" />
<line x1="414.15" y1="315" x2="422.75" y2="315" stroke="#000" stroke-width="1.2" />
<line x1="414.15" y1="337.9" x2="422.75" y2="337.9" stroke="#000" stroke-width="1.2" />
<circle cx="434.55" cy="343.7" r="2" fill="#555" fill-opacity="0.75"/>
<circle cx="434.55" cy="363.6" r="2" fill="#555" fill-opacity="0.75"/>
<circle cx="434.55" cy="390.9" r="2" fill="#555" fill-opacity="0.75"/>
<line x1="434.55" y1="342.1" x2="434.55" y2="389.7" stroke="#000" stroke-width="1.2" />
<line x1="430.25" y1="342.1" x2="438.85" y2="342.1" stroke="#000" stroke-width="1.2" />
<line x1="430.25" y1="389.7" x2="438.85" y2="389.7" stroke="#000" stroke-width="1.2" />
<line x1="426.5" y1="416.4" x2="426.5" y2="419.4" stroke="#000" stroke-width="1.1" />
<text x="425.9" y="429.8" font-size="10.5" text-anchor="middle" fill="#111" >1.0</text>
<text x="425.9" y="441.6" font-size="10.5" text-anchor="middle" fill="#111" >1.0</text>
<text x="50.9" y="427.4" font-size="11.4" text-anchor="end" fill="#000" font-weight="bold" >x</text>
<text x="50.9" y="439.8" font-size="11.2" text-anchor="end" fill="#000" font-weight="bold" >y</text>
<text x="195.4" y="451.2" font-size="10.6" text-anchor="start" fill="#111" >Distance to TTS (kbp)</text>
<line x1="38.5" y1="483" x2="38.5" y2="636.2" stroke="#000" stroke-width="1.3" />
<line x1="37.9" y1="636.4" x2="176.2" y2="636.4" stroke="#000" stroke-width="1.3" />
<line x1="35.5" y1="633.8" x2="38.5" y2="633.8" stroke="#000" stroke-width="1.1" />
<text x="35.5" y="637.5" font-size="10.5" text-anchor="end" fill="#111" >0</text>
<line x1="35.5" y1="561.85" x2="38.5" y2="561.85" stroke="#000" stroke-width="1.1" />
<text x="35.5" y="565.55" font-size="10.5" text-anchor="end" fill="#111" >0.5</text>
<line x1="35.5" y1="489.9" x2="38.5" y2="489.9" stroke="#000" stroke-width="1.1" />
<text x="35.5" y="493.6" font-size="10.5" text-anchor="end" fill="#111" >1.0</text>
<text x="18.9" y="565.5" font-size="11.3" text-anchor="middle" fill="#111" transform="rotate(-90 18.9 565.5)" >Value</text>
<text x="67" y="491" font-size="10.5" text-anchor="start" fill="#111" font-style="italic" >R</text>
<text x="76.3" y="491" font-size="10.5" text-anchor="start" fill="#111" font-style="italic" >²</text>
<text x="137.7" y="490.8" font-size="10.5" text-anchor="middle" fill="#111" >PCC</text>
<rect x="42.4" y="591.2" width="11.2" height="42.2" fill="#e6c1a3" stroke="#111" stroke-width="1.3" />
<rect x="57.9" y="583" width="11.2" height="50.4" fill="#e6c1a3" stroke="#111" stroke-width="1.3" />
<rect x="73.3" y="568" width="11.2" height="65.4" fill="#e6c1a3" stroke="#111" stroke-width="1.3" />
<rect x="88.3" y="534.1" width="11.2" height="99.3" fill="#e6c1a3" stroke="#111" stroke-width="1.3" />
<rect x="112.5" y="557.1" width="11.2" height="76.3" fill="#d3a2d1" stroke="#111" stroke-width="1.3" />
<rect x="128.5" y="548.4" width="11.2" height="85" fill="#d3a2d1" stroke="#111" stroke-width="1.3" />
<rect x="143.5" y="568.3" width="11.2" height="65.1" fill="#d3a2d1" stroke="#111" stroke-width="1.3" />
<rect x="159.4" y="513.4" width="11.2" height="120" fill="#d3a2d1" stroke="#111" stroke-width="1.3" />
<line x1="48" y1="591.2" x2="48" y2="582.4" stroke="#000" stroke-width="1.2" />
<line x1="47.1" y1="582.4" x2="48.9" y2="582.4" stroke="#000" stroke-width="1.2" />
<line x1="63.5" y1="583" x2="63.5" y2="575.3" stroke="#000" stroke-width="1.2" />
<line x1="62.6" y1="575.3" x2="64.4" y2="575.3" stroke="#000" stroke-width="1.2" />
<line x1="78.9" y1="568" x2="78.9" y2="564" stroke="#000" stroke-width="1.2" />
<line x1="78" y1="564" x2="79.8" y2="564" stroke="#000" stroke-width="1.2" />
<line x1="93.9" y1="534.1" x2="93.9" y2="531.8" stroke="#000" stroke-width="1.2" />
<line x1="93" y1="531.8" x2="94.8" y2="531.8" stroke="#000" stroke-width="1.2" />
<line x1="118.1" y1="557.1" x2="118.1" y2="549.4" stroke="#000" stroke-width="1.2" />
<line x1="117.2" y1="549.4" x2="119" y2="549.4" stroke="#000" stroke-width="1.2" />
<line x1="134.1" y1="548.4" x2="134.1" y2="542" stroke="#000" stroke-width="1.2" />
<line x1="133.2" y1="542" x2="135" y2="542" stroke="#000" stroke-width="1.2" />
<line x1="149.1" y1="568.3" x2="149.1" y2="565" stroke="#000" stroke-width="1.2" />
<line x1="148.2" y1="565" x2="150" y2="565" stroke="#000" stroke-width="1.2" />
<line x1="165" y1="513.4" x2="165" y2="511.5" stroke="#000" stroke-width="1.2" />
<line x1="164.1" y1="511.5" x2="165.9" y2="511.5" stroke="#000" stroke-width="1.2" />
<line x1="48" y1="636.2" x2="48" y2="639.2" stroke="#000" stroke-width="1.1" />
<text x="51.9" y="645.6" font-size="10.7" text-anchor="end" fill="#111" transform="rotate(-45 51.9 645.6)" >Basenjie2</text>
<line x1="63.5" y1="636.2" x2="63.5" y2="639.2" stroke="#000" stroke-width="1.1" />
<text x="67.7" y="645.6" font-size="10.7" text-anchor="end" fill="#111" transform="rotate(-45 67.7 645.6)" >PhytoExpr</text>
<line x1="78.9" y1="636.2" x2="78.9" y2="639.2" stroke="#000" stroke-width="1.1" />
<text x="83.3" y="645.6" font-size="10.7" text-anchor="end" fill="#111" transform="rotate(-45 83.3 645.6)" >Xpresso</text>
<line x1="93.9" y1="636.2" x2="93.9" y2="639.2" stroke="#000" stroke-width="1.1" />
<text x="98.6" y="645.6" font-size="10.7" text-anchor="end" fill="#111" transform="rotate(-45 98.6 645.6)" >DeepEXP</text>
<line x1="118.1" y1="636.2" x2="118.1" y2="639.2" stroke="#000" stroke-width="1.1" />
<text x="123.5" y="645.6" font-size="10.7" text-anchor="end" fill="#111" transform="rotate(-45 123.5 645.6)" >Basenjie2</text>
<line x1="134.1" y1="636.2" x2="134.1" y2="639.2" stroke="#000" stroke-width="1.1" />
<text x="139.5" y="645.6" font-size="10.7" text-anchor="end" fill="#111" transform="rotate(-45 139.5 645.6)" >PhytoExpr</text>
<line x1="149.1" y1="636.2" x2="149.1" y2="639.2" stroke="#000" stroke-width="1.1" />
<text x="153.8" y="645.6" font-size="10.7" text-anchor="end" fill="#111" transform="rotate(-45 153.8 645.6)" >Xpresso</text>
<line x1="165" y1="636.2" x2="165" y2="639.2" stroke="#000" stroke-width="1.1" />
<text x="171.1" y="645.6" font-size="10.7" text-anchor="end" fill="#111" transform="rotate(-45 171.1 645.6)" >DeepEXP</text>
<circle cx="46.5" cy="566.5" r="1.45" fill="#000" />
<circle cx="50.2" cy="567.4" r="1.45" fill="#000" />
<circle cx="45" cy="592.5" r="1.45" fill="#000" />
<circle cx="47.2" cy="602" r="1.45" fill="#000" />
<circle cx="50.6" cy="603" r="1.45" fill="#000" />
<circle cx="49.9" cy="614.3" r="1.45" fill="#000" />
<circle cx="63.3" cy="568" r="1.45" fill="#000" />
<circle cx="65.9" cy="571.4" r="1.45" fill="#000" />
<circle cx="62.9" cy="576.5" r="1.45" fill="#000" />
<circle cx="65.6" cy="597.2" r="1.45" fill="#000" />
<circle cx="63.4" cy="615.3" r="1.45" fill="#000" />
<circle cx="77.1" cy="556.7" r="1.45" fill="#000" />
<circle cx="80.9" cy="558.6" r="1.45" fill="#000" />
<circle cx="75.9" cy="562.1" r="1.45" fill="#000" />
<circle cx="80" cy="565" r="1.45" fill="#000" />
<circle cx="76.3" cy="583.7" r="1.45" fill="#000" />
<circle cx="79.3" cy="581.8" r="1.45" fill="#000" />
<circle cx="93" cy="524.5" r="1.45" fill="#000" />
<circle cx="94.7" cy="532.2" r="1.45" fill="#000" />
<circle cx="95.5" cy="534.5" r="1.45" fill="#000" />
<circle cx="96.3" cy="536.8" r="1.45" fill="#000" />
<circle cx="96.5" cy="538.8" r="1.45" fill="#000" />
<circle cx="94.2" cy="535" r="1.45" fill="#000" />
<circle cx="115.9" cy="535.9" r="1.45" fill="#000" />
<circle cx="119.1" cy="535.4" r="1.45" fill="#000" />
<circle cx="116.8" cy="567" r="1.45" fill="#000" />
<circle cx="118.5" cy="566.5" r="1.45" fill="#000" />
<circle cx="119.4" cy="580.8" r="1.45" fill="#000" />
<circle cx="130.9" cy="539.1" r="1.45" fill="#000" />
<circle cx="135.3" cy="536.9" r="1.45" fill="#000" />
<circle cx="136.8" cy="535.4" r="1.45" fill="#000" />
<circle cx="133.5" cy="542" r="1.45" fill="#000" />
<circle cx="136.2" cy="560.9" r="1.45" fill="#000" />
<circle cx="134.7" cy="574.6" r="1.45" fill="#000" />
<circle cx="146.8" cy="556.8" r="1.45" fill="#000" />
<circle cx="147.4" cy="559" r="1.45" fill="#000" />
<circle cx="149" cy="562.4" r="1.45" fill="#000" />
<circle cx="150" cy="565.6" r="1.45" fill="#000" />
<circle cx="147.4" cy="582" r="1.45" fill="#000" />
<circle cx="148.2" cy="584.2" r="1.45" fill="#000" />
<circle cx="163.7" cy="508" r="1.45" fill="#000" />
<circle cx="162.8" cy="513.5" r="1.45" fill="#000" />
<circle cx="164.5" cy="515.6" r="1.45" fill="#000" />
<circle cx="163.8" cy="517.2" r="1.45" fill="#000" />
<circle cx="165.2" cy="514.2" r="1.45" fill="#000" />
<path d="M47.4,521.9 L47.4,519.3 L94.1,519.3 L94.1,521.9" fill="none" stroke="#000" stroke-width="1" />
<path d="M62.9,517.2 L62.9,514.6 L94.1,514.6 L94.1,517.2" fill="none" stroke="#000" stroke-width="1" />
<path d="M78.7,512 L78.7,509.4 L94.1,509.4 L94.1,512" fill="none" stroke="#000" stroke-width="1" />
<text x="67.3" y="521.7" font-size="9.5" text-anchor="middle" fill="#111" >**</text>
<text x="73.8" y="517" font-size="9.5" text-anchor="middle" fill="#111" >**</text>
<text x="86.5" y="511.8" font-size="9.5" text-anchor="middle" fill="#111" >**</text>
<path d="M117.9,506.1 L117.9,503.5 L164.7,503.5 L164.7,506.1" fill="none" stroke="#000" stroke-width="1" />
<path d="M133.5,501.3 L133.5,498.7 L164.7,498.7 L164.7,501.3" fill="none" stroke="#000" stroke-width="1" />
<path d="M148.5,496.1 L148.5,493.5 L164.7,493.5 L164.7,496.1" fill="none" stroke="#000" stroke-width="1" />
<text x="137.8" y="505.9" font-size="9.5" text-anchor="middle" fill="#111" >**</text>
<text x="144.4" y="501.1" font-size="9.5" text-anchor="middle" fill="#111" >**</text>
<text x="156.2" y="495.9" font-size="9.5" text-anchor="middle" fill="#111" >**</text>
<rect x="220.4" y="478.8" width="229.6" height="164.7" fill="#fff" stroke="#1a1a1a" stroke-width="1.3" />
<line x1="217.4" y1="642" x2="220.4" y2="642" stroke="#000" stroke-width="1.1" />
<text x="215.6" y="645.7" font-size="10.5" text-anchor="end" fill="#111" >0</text>
<line x1="217.4" y1="603.4" x2="220.4" y2="603.4" stroke="#000" stroke-width="1.1" />
<text x="215.6" y="607.1" font-size="10.5" text-anchor="end" fill="#111" >0.2</text>
<line x1="217.4" y1="564.8" x2="220.4" y2="564.8" stroke="#000" stroke-width="1.1" />
<text x="215.6" y="568.5" font-size="10.5" text-anchor="end" fill="#111" >0.4</text>
<line x1="217.4" y1="526.2" x2="220.4" y2="526.2" stroke="#000" stroke-width="1.1" />
<text x="215.6" y="529.9" font-size="10.5" text-anchor="end" fill="#111" >0.6</text>
<line x1="217.4" y1="487.6" x2="220.4" y2="487.6" stroke="#000" stroke-width="1.1" />
<text x="215.6" y="491.3" font-size="10.5" text-anchor="end" fill="#111" >0.8</text>
<text x="197.2" y="562" font-size="10.6" text-anchor="middle" fill="#111" transform="rotate(-90 197.2 562)" >PCC of&#160; Exp vs Pred</text>
<rect x="224.4" y="485.6" width="8.7" height="8.8" fill="#e88a78" />
<text x="235.3" y="494.2" font-size="10.5" text-anchor="start" fill="#111" >PhytoExpr</text>
<rect x="224.4" y="498.4" width="8.7" height="8.8" fill="#9ec6d5" />
<text x="235.3" y="507" font-size="10.5" text-anchor="start" fill="#111" >Xpresso</text>
<rect x="224.4" y="511.2" width="8.7" height="8.8" fill="#649e8e" />
<text x="235.3" y="519.8" font-size="10.5" text-anchor="start" fill="#111" >DeepEXP</text>
<rect x="228.8" y="549.55" width="7.6" height="91.25" fill="#e88a78" />
<rect x="238.55" y="532.18" width="7.6" height="108.62" fill="#9ec6d5" />
<rect x="248.3" y="526.78" width="7.6" height="114.02" fill="#649e8e" />
<line x1="242.35" y1="643.5" x2="242.35" y2="646.5" stroke="#000" stroke-width="1.1" />
<text x="238.9" y="657.8" font-size="10.8" text-anchor="middle" fill="#111" >CIM7d</text>
<rect x="265.8" y="567.89" width="7.6" height="72.91" fill="#e88a78" />
<rect x="275.55" y="546.66" width="7.6" height="94.14" fill="#9ec6d5" />
<rect x="285.3" y="533.15" width="7.6" height="107.65" fill="#649e8e" />
<line x1="279.35" y1="643.5" x2="279.35" y2="646.5" stroke="#000" stroke-width="1.1" />
<text x="281" y="657.8" font-size="10.8" text-anchor="middle" fill="#111" >SIM8d</text>
<rect x="302.8" y="522.92" width="7.6" height="117.88" fill="#e88a78" />
<rect x="312.55" y="514.04" width="7.6" height="126.76" fill="#9ec6d5" />
<rect x="322.3" y="501.69" width="7.6" height="139.11" fill="#649e8e" />
<line x1="316.35" y1="643.5" x2="316.35" y2="646.5" stroke="#000" stroke-width="1.1" />
<text x="318.1" y="657.8" font-size="10.8" text-anchor="middle" fill="#111" >Leaf</text>
<rect x="339.8" y="517.9" width="7.6" height="122.9" fill="#e88a78" />
<rect x="349.55" y="507.29" width="7.6" height="133.51" fill="#9ec6d5" />
<rect x="359.3" y="497.83" width="7.6" height="142.97" fill="#649e8e" />
<line x1="353.35" y1="643.5" x2="353.35" y2="646.5" stroke="#000" stroke-width="1.1" />
<text x="354.8" y="657.8" font-size="10.8" text-anchor="middle" fill="#111" >Root</text>
<rect x="376.8" y="559.78" width="7.6" height="81.02" fill="#e88a78" />
<rect x="386.55" y="511.92" width="7.6" height="128.88" fill="#9ec6d5" />
<rect x="396.3" y="518.48" width="7.6" height="122.32" fill="#649e8e" />
<line x1="390.35" y1="643.5" x2="390.35" y2="646.5" stroke="#000" stroke-width="1.1" />
<text x="390.7" y="657.8" font-size="10.8" text-anchor="middle" fill="#111" >Ear</text>
<rect x="413.8" y="539.52" width="7.6" height="101.28" fill="#e88a78" />
<rect x="423.55" y="514.04" width="7.6" height="126.76" fill="#9ec6d5" />
<rect x="433.3" y="498.22" width="7.6" height="142.58" fill="#649e8e" />
<line x1="427.35" y1="643.5" x2="427.35" y2="646.5" stroke="#000" stroke-width="1.1" />
<text x="425.5" y="657.8" font-size="10.8" text-anchor="middle" fill="#111" >Tassel</text>
<line x1="227.1" y1="662" x2="290.2" y2="662" stroke="#000" stroke-width="1.2" />
<text x="260.5" y="673.6" font-size="10.5" text-anchor="middle" fill="#111" font-style="italic" >A. thaliana</text>
<line x1="303.7" y1="662" x2="366.4" y2="662" stroke="#000" stroke-width="1.2" />
<text x="334.8" y="673.6" font-size="10.5" text-anchor="middle" fill="#111" font-style="italic" >O. sativa</text>
<line x1="380.2" y1="662" x2="442.6" y2="662" stroke="#000" stroke-width="1.2" />
<text x="406.2" y="673.6" font-size="10.5" text-anchor="middle" fill="#111" font-style="italic" >Z. mays</text>
<rect x="484.6" y="9.5" width="193.5" height="45.2" fill="#fff" />
<path d="M484.6,54.7 L484.6,14.92 L486.54,14.92 L486.54,14.92 L488.47,14.92 L488.47,54.7 L490.41,54.7 L490.41,54.7 L492.34,54.7 L492.34,54.7 L494.28,54.7 L494.28,54.7 L496.21,54.7 L496.21,54.7 L498.15,54.7 L498.15,54.7 L500.08,54.7 L500.08,54.7 L502.02,54.7 L502.02,54.7 L503.95,54.7 L503.95,54.68 L505.89,54.68 L505.89,54.64 L507.82,54.64 L507.82,54.6 L509.75,54.6 L509.75,54.57 L511.69,54.57 L511.69,54.52 L513.62,54.52 L513.62,54.51 L515.56,54.51 L515.56,54.37 L517.5,54.37 L517.5,54.14 L519.43,54.14 L519.43,54 L521.37,54 L521.37,53.75 L523.3,53.75 L523.3,53.57 L525.24,53.57 L525.24,53.6 L527.17,53.6 L527.17,53.08 L529.11,53.08 L529.11,52.84 L531.04,52.84 L531.04,52.72 L532.98,52.72 L532.98,52.63 L534.91,52.63 L534.91,51.69 L536.85,51.69 L536.85,51.71 L538.78,51.71 L538.78,51.21 L540.72,51.21 L540.72,50.8 L542.65,50.8 L542.65,50.73 L544.59,50.73 L544.59,50.25 L546.52,50.25 L546.52,50.71 L548.46,50.71 L548.46,50.08 L550.39,50.08 L550.39,50.42 L552.33,50.42 L552.33,49.65 L554.26,49.65 L554.26,49.6 L556.2,49.6 L556.2,50.58 L558.13,50.58 L558.13,50.42 L560.07,50.42 L560.07,50.2 L562,50.2 L562,48.98 L563.94,48.98 L563.94,49.69 L565.87,49.69 L565.87,49.3 L567.81,49.3 L567.81,49.73 L569.74,49.73 L569.74,49.31 L571.68,49.31 L571.68,49.51 L573.61,49.51 L573.61,49.65 L575.55,49.65 L575.55,49.37 L577.48,49.37 L577.48,49.46 L579.41,49.46 L579.41,49.07 L581.35,49.07 L581.35,49.5 L583.29,49.5 L583.29,49.24 L585.22,49.24 L585.22,49.45 L587.15,49.45 L587.15,49.36 L589.09,49.36 L589.09,49.9 L591.02,49.9 L591.02,50.65 L592.96,50.65 L592.96,49.74 L594.89,49.74 L594.89,49.64 L596.83,49.64 L596.83,49.75 L598.76,49.75 L598.76,50.22 L600.7,50.22 L600.7,50.07 L602.63,50.07 L602.63,50.75 L604.57,50.75 L604.57,49.98 L606.5,49.98 L606.5,50.34 L608.44,50.34 L608.44,50.74 L610.38,50.74 L610.38,51.05 L612.31,51.05 L612.31,50.08 L614.25,50.08 L614.25,49.95 L616.18,49.95 L616.18,51.09 L618.12,51.09 L618.12,50.25 L620.05,50.25 L620.05,50.73 L621.99,50.73 L621.99,51.02 L623.92,51.02 L623.92,50.81 L625.86,50.81 L625.86,50.19 L627.79,50.19 L627.79,50.03 L629.73,50.03 L629.73,51.05 L631.66,51.05 L631.66,50.29 L633.6,50.29 L633.6,50.99 L635.53,50.99 L635.53,50.09 L637.47,50.09 L637.47,50.57 L639.4,50.57 L639.4,49.81 L641.34,49.81 L641.34,49.65 L643.27,49.65 L643.27,50.25 L645.21,50.25 L645.21,49.56 L647.14,49.56 L647.14,50.45 L649.08,50.45 L649.08,50.75 L651.01,50.75 L651.01,50.04 L652.95,50.04 L652.95,50.82 L654.88,50.82 L654.88,50.59 L656.82,50.59 L656.82,50.3 L658.75,50.3 L658.75,50.03 L660.69,50.03 L660.69,50.65 L662.62,50.65 L662.62,50.8 L664.56,50.8 L664.56,49.68 L666.49,49.68 L666.49,50.43 L668.43,50.43 L668.43,49.4 L670.36,49.4 L670.36,49.19 L672.3,49.19 L672.3,49.69 L674.23,49.69 L674.23,33.46 L676.16,33.46 L676.16,33.46 L678.1,33.46 L678.1,54.7 Z" fill="#d5a8d2" stroke="none"/>
<rect x="484.6" y="60.3" width="193.5" height="45.2" fill="#fff" />
<path d="M484.6,105.5 L484.6,101.31 L486.54,101.31 L486.54,101.35 L488.47,101.35 L488.47,99.1 L490.41,99.1 L490.41,99.02 L492.34,99.02 L492.34,98.12 L494.28,98.12 L494.28,98.71 L496.21,98.71 L496.21,98.37 L498.15,98.37 L498.15,97.95 L500.08,97.95 L500.08,95.22 L502.02,95.22 L502.02,95.08 L503.95,95.08 L503.95,91.63 L505.89,91.63 L505.89,92.79 L507.82,92.79 L507.82,87.7 L509.75,87.7 L509.75,89.59 L511.69,89.59 L511.69,86.84 L513.62,86.84 L513.62,86.21 L515.56,86.21 L515.56,93.65 L517.5,93.65 L517.5,92.09 L519.43,92.09 L519.43,99 L521.37,99 L521.37,99.73 L523.3,99.73 L523.3,100.4 L525.24,100.4 L525.24,100.56 L527.17,100.56 L527.17,101.75 L529.11,101.75 L529.11,101.99 L531.04,101.99 L531.04,103.62 L532.98,103.62 L532.98,103.61 L534.91,103.61 L534.91,104.27 L536.85,104.27 L536.85,104.26 L538.78,104.26 L538.78,103.16 L540.72,103.16 L540.72,103.03 L542.65,103.03 L542.65,102.92 L544.59,102.92 L544.59,102.81 L546.52,102.81 L546.52,102.74 L548.46,102.74 L548.46,102.89 L550.39,102.89 L550.39,102.86 L552.33,102.86 L552.33,102.89 L554.26,102.89 L554.26,102.86 L556.2,102.86 L556.2,102.74 L558.13,102.74 L558.13,102.9 L560.07,102.9 L560.07,102.85 L562,102.85 L562,102.64 L563.94,102.64 L563.94,103.04 L565.87,103.04 L565.87,102.75 L567.81,102.75 L567.81,102.66 L569.74,102.66 L569.74,102.89 L571.68,102.89 L571.68,102.94 L573.61,102.94 L573.61,102.14 L575.55,102.14 L575.55,102.5 L577.48,102.5 L577.48,102.53 L579.41,102.53 L579.41,102.38 L581.35,102.38 L581.35,101.74 L583.29,101.74 L583.29,102.17 L585.22,102.17 L585.22,102.01 L587.15,102.01 L587.15,102 L589.09,102 L589.09,101.16 L591.02,101.16 L591.02,101.48 L592.96,101.48 L592.96,101.14 L594.89,101.14 L594.89,101.7 L596.83,101.7 L596.83,101.13 L598.76,101.13 L598.76,100.84 L600.7,100.84 L600.7,101.12 L602.63,101.12 L602.63,101.47 L604.57,101.47 L604.57,101.66 L606.5,101.66 L606.5,101.74 L608.44,101.74 L608.44,100.95 L610.38,100.95 L610.38,101.26 L612.31,101.26 L612.31,100.22 L614.25,100.22 L614.25,100.19 L616.18,100.19 L616.18,101.27 L618.12,101.27 L618.12,101.18 L620.05,101.18 L620.05,100.22 L621.99,100.22 L621.99,100.39 L623.92,100.39 L623.92,99.26 L625.86,99.26 L625.86,99.81 L627.79,99.81 L627.79,100.48 L629.73,100.48 L629.73,100.3 L631.66,100.3 L631.66,100.24 L633.6,100.24 L633.6,100.76 L635.53,100.76 L635.53,101.56 L637.47,101.56 L637.47,101.5 L639.4,101.5 L639.4,102.83 L641.34,102.83 L641.34,102.84 L643.27,102.84 L643.27,104.03 L645.21,104.03 L645.21,104.24 L647.14,104.24 L647.14,105.09 L649.08,105.09 L649.08,105.01 L651.01,105.01 L651.01,105.5 L652.95,105.5 L652.95,105.5 L654.88,105.5 L654.88,105.5 L656.82,105.5 L656.82,105.5 L658.75,105.5 L658.75,105.5 L660.69,105.5 L660.69,105.5 L662.62,105.5 L662.62,105.5 L664.56,105.5 L664.56,105.5 L666.49,105.5 L666.49,105.5 L668.43,105.5 L668.43,105.5 L670.36,105.5 L670.36,105.5 L672.3,105.5 L672.3,105.5 L674.23,105.5 L674.23,90.58 L676.16,90.58 L676.16,90.58 L678.1,90.58 L678.1,105.5 Z" fill="#f4b7b4" stroke="none"/>
<rect x="484.6" y="109.8" width="193.5" height="45.2" fill="#fff" />
<path d="M484.6,155 L484.6,134.21 L486.54,134.21 L486.54,134.21 L488.47,134.21 L488.47,154.45 L490.41,154.45 L490.41,154.53 L492.34,154.53 L492.34,154.39 L494.28,154.39 L494.28,154.4 L496.21,154.4 L496.21,154.34 L498.15,154.34 L498.15,154.32 L500.08,154.32 L500.08,154.29 L502.02,154.29 L502.02,154.32 L503.95,154.32 L503.95,154.35 L505.89,154.35 L505.89,154.1 L507.82,154.1 L507.82,154.12 L509.75,154.12 L509.75,153.98 L511.69,153.98 L511.69,153.77 L513.62,153.77 L513.62,153.69 L515.56,153.69 L515.56,153.62 L517.5,153.62 L517.5,153.31 L519.43,153.31 L519.43,153.32 L521.37,153.32 L521.37,153.32 L523.3,153.32 L523.3,153.19 L525.24,153.19 L525.24,152.67 L527.17,152.67 L527.17,152.64 L529.11,152.64 L529.11,152.22 L531.04,152.22 L531.04,152.28 L532.98,152.28 L532.98,152.17 L534.91,152.17 L534.91,151.7 L536.85,151.7 L536.85,151.23 L538.78,151.23 L538.78,151.57 L540.72,151.57 L540.72,150.77 L542.65,150.77 L542.65,150.4 L544.59,150.4 L544.59,150.27 L546.52,150.27 L546.52,150.01 L548.46,150.01 L548.46,150.72 L550.39,150.72 L550.39,149.76 L552.33,149.76 L552.33,149.23 L554.26,149.23 L554.26,150.06 L556.2,150.06 L556.2,149.55 L558.13,149.55 L558.13,149.34 L560.07,149.34 L560.07,148.74 L562,148.74 L562,148.68 L563.94,148.68 L563.94,148.38 L565.87,148.38 L565.87,147.65 L567.81,147.65 L567.81,148.73 L569.74,148.73 L569.74,148.44 L571.68,148.44 L571.68,148.11 L573.61,148.11 L573.61,147.91 L575.55,147.91 L575.55,147.81 L577.48,147.81 L577.48,145.81 L579.41,145.81 L579.41,145.8 L581.35,145.8 L581.35,147.2 L583.29,147.2 L583.29,146.2 L585.22,146.2 L585.22,146.47 L587.15,146.47 L587.15,146.34 L589.09,146.34 L589.09,146.13 L591.02,146.13 L591.02,145.34 L592.96,145.34 L592.96,145.33 L594.89,145.33 L594.89,145.72 L596.83,145.72 L596.83,145.98 L598.76,145.98 L598.76,145.53 L600.7,145.53 L600.7,145.95 L602.63,145.95 L602.63,144.92 L604.57,144.92 L604.57,144.54 L606.5,144.54 L606.5,145.34 L608.44,145.34 L608.44,146.06 L610.38,146.06 L610.38,145.82 L612.31,145.82 L612.31,145.36 L614.25,145.36 L614.25,144.81 L616.18,144.81 L616.18,144.38 L618.12,144.38 L618.12,145.34 L620.05,145.34 L620.05,144.34 L621.99,144.34 L621.99,144.76 L623.92,144.76 L623.92,145.22 L625.86,145.22 L625.86,145.36 L627.79,145.36 L627.79,145.07 L629.73,145.07 L629.73,144.57 L631.66,144.57 L631.66,145.25 L633.6,145.25 L633.6,144.59 L635.53,144.59 L635.53,145.15 L637.47,145.15 L637.47,145.66 L639.4,145.66 L639.4,145.06 L641.34,145.06 L641.34,144.87 L643.27,144.87 L643.27,146.48 L645.21,146.48 L645.21,145.86 L647.14,145.86 L647.14,146.03 L649.08,146.03 L649.08,145.53 L651.01,145.53 L651.01,146.21 L652.95,146.21 L652.95,147.99 L654.88,147.99 L654.88,147.87 L656.82,147.87 L656.82,148.81 L658.75,148.81 L658.75,150.18 L660.69,150.18 L660.69,150.56 L662.62,150.56 L662.62,151.51 L664.56,151.51 L664.56,151.55 L666.49,151.55 L666.49,152.32 L668.43,152.32 L668.43,152.68 L670.36,152.68 L670.36,153.02 L672.3,153.02 L672.3,153.35 L674.23,153.35 L674.23,126.98 L676.16,126.98 L676.16,126.98 L678.1,126.98 L678.1,155 Z" fill="#f4b7b4" stroke="none"/>
<rect x="484.6" y="160.4" width="193.5" height="45.2" fill="#fff" />
<path d="M484.6,205.6 L484.6,201.08 L486.54,201.08 L486.54,201.08 L488.47,201.08 L488.47,205.4 L490.41,205.4 L490.41,205.39 L492.34,205.39 L492.34,205.36 L494.28,205.36 L494.28,205.39 L496.21,205.39 L496.21,205.39 L498.15,205.39 L498.15,205.39 L500.08,205.39 L500.08,205.36 L502.02,205.36 L502.02,205.39 L503.95,205.39 L503.95,205.4 L505.89,205.4 L505.89,205.36 L507.82,205.36 L507.82,205.39 L509.75,205.39 L509.75,205.36 L511.69,205.36 L511.69,205.37 L513.62,205.37 L513.62,205.36 L515.56,205.36 L515.56,205.35 L517.5,205.35 L517.5,205.37 L519.43,205.37 L519.43,205.36 L521.37,205.36 L521.37,205.39 L523.3,205.39 L523.3,205.36 L525.24,205.36 L525.24,205.37 L527.17,205.37 L527.17,205.36 L529.11,205.36 L529.11,205.39 L531.04,205.39 L531.04,205.36 L532.98,205.36 L532.98,205.26 L534.91,205.26 L534.91,205.15 L536.85,205.15 L536.85,204.95 L538.78,204.95 L538.78,204.73 L540.72,204.73 L540.72,204.49 L542.65,204.49 L542.65,204.43 L544.59,204.43 L544.59,204.26 L546.52,204.26 L546.52,204.06 L548.46,204.06 L548.46,203.74 L550.39,203.74 L550.39,203.48 L552.33,203.48 L552.33,203.43 L554.26,203.43 L554.26,203.25 L556.2,203.25 L556.2,203.04 L558.13,203.04 L558.13,202.79 L560.07,202.79 L560.07,202.4 L562,202.4 L562,202.29 L563.94,202.29 L563.94,201.62 L565.87,201.62 L565.87,200.85 L567.81,200.85 L567.81,200.98 L569.74,200.98 L569.74,200.29 L571.68,200.29 L571.68,200.54 L573.61,200.54 L573.61,199.59 L575.55,199.59 L575.55,199.14 L577.48,199.14 L577.48,198.72 L579.41,198.72 L579.41,198.28 L581.35,198.28 L581.35,197.68 L583.29,197.68 L583.29,196.77 L585.22,196.77 L585.22,195.63 L587.15,195.63 L587.15,196.41 L589.09,196.41 L589.09,195.93 L591.02,195.93 L591.02,193.74 L592.96,193.74 L592.96,192.38 L594.89,192.38 L594.89,192.45 L596.83,192.45 L596.83,191.75 L598.76,191.75 L598.76,190.03 L600.7,190.03 L600.7,191.07 L602.63,191.07 L602.63,190.56 L604.57,190.56 L604.57,190.52 L606.5,190.52 L606.5,189 L608.44,189 L608.44,189.63 L610.38,189.63 L610.38,189.69 L612.31,189.69 L612.31,187.96 L614.25,187.96 L614.25,186.87 L616.18,186.87 L616.18,188.95 L618.12,188.95 L618.12,187.34 L620.05,187.34 L620.05,188.19 L621.99,188.19 L621.99,186.43 L623.92,186.43 L623.92,187.21 L625.86,187.21 L625.86,188.19 L627.79,188.19 L627.79,188.2 L629.73,188.2 L629.73,188.86 L631.66,188.86 L631.66,187.21 L633.6,187.21 L633.6,187.61 L635.53,187.61 L635.53,188.43 L637.47,188.43 L637.47,187.78 L639.4,187.78 L639.4,187.97 L641.34,187.97 L641.34,186.36 L643.27,186.36 L643.27,188.7 L645.21,188.7 L645.21,185.67 L647.14,185.67 L647.14,187.57 L649.08,187.57 L649.08,187.48 L651.01,187.48 L651.01,188.58 L652.95,188.58 L652.95,188 L654.88,188 L654.88,188.71 L656.82,188.71 L656.82,190.19 L658.75,190.19 L658.75,191.06 L660.69,191.06 L660.69,191.02 L662.62,191.02 L662.62,191.31 L664.56,191.31 L664.56,193.15 L666.49,193.15 L666.49,192.97 L668.43,192.97 L668.43,193.63 L670.36,193.63 L670.36,196.28 L672.3,196.28 L672.3,198.22 L674.23,198.22 L674.23,191.59 L676.16,191.59 L676.16,191.59 L678.1,191.59 L678.1,205.6 Z" fill="#f4b7b4" stroke="none"/>
<rect x="484.6" y="211.1" width="193.5" height="45.2" fill="#fff" />
<path d="M484.6,256.3 L484.6,211.1 L486.54,211.1 L486.54,211.1 L488.47,211.1 L488.47,256.3 L490.41,256.3 L490.41,256.3 L492.34,256.3 L492.34,256.3 L494.28,256.3 L494.28,256.3 L496.21,256.3 L496.21,256.3 L498.15,256.3 L498.15,256.3 L500.08,256.3 L500.08,256.3 L502.02,256.3 L502.02,256.3 L503.95,256.3 L503.95,256.3 L505.89,256.3 L505.89,256.3 L507.82,256.3 L507.82,256.3 L509.75,256.3 L509.75,256.3 L511.69,256.3 L511.69,256.3 L513.62,256.3 L513.62,256.3 L515.56,256.3 L515.56,256.3 L517.5,256.3 L517.5,256.3 L519.43,256.3 L519.43,256.3 L521.37,256.3 L521.37,256.3 L523.3,256.3 L523.3,256.3 L525.24,256.3 L525.24,256.3 L527.17,256.3 L527.17,256.3 L529.11,256.3 L529.11,256.3 L531.04,256.3 L531.04,256.3 L532.98,256.3 L532.98,256.3 L534.91,256.3 L534.91,256.3 L536.85,256.3 L536.85,256.3 L538.78,256.3 L538.78,256.3 L540.72,256.3 L540.72,256.3 L542.65,256.3 L542.65,256.14 L544.59,256.14 L544.59,255.88 L546.52,255.88 L546.52,255.56 L548.46,255.56 L548.46,255.14 L550.39,255.14 L550.39,255.04 L552.33,255.04 L552.33,254.42 L554.26,254.42 L554.26,254.18 L556.2,254.18 L556.2,254.46 L558.13,254.46 L558.13,253.7 L560.07,253.7 L560.07,253.9 L562,253.9 L562,253.38 L563.94,253.38 L563.94,253.17 L565.87,253.17 L565.87,253.38 L567.81,253.38 L567.81,252.81 L569.74,252.81 L569.74,252.62 L571.68,252.62 L571.68,252.32 L573.61,252.32 L573.61,252.85 L575.55,252.85 L575.55,252.25 L577.48,252.25 L577.48,251.94 L579.41,251.94 L579.41,252.21 L581.35,252.21 L581.35,252.31 L583.29,252.31 L583.29,252.76 L585.22,252.76 L585.22,252.24 L587.15,252.24 L587.15,252.35 L589.09,252.35 L589.09,251.84 L591.02,251.84 L591.02,251.82 L592.96,251.82 L592.96,251.91 L594.89,251.91 L594.89,252.35 L596.83,252.35 L596.83,251.68 L598.76,251.68 L598.76,251.63 L600.7,251.63 L600.7,252.22 L602.63,252.22 L602.63,251.25 L604.57,251.25 L604.57,251.57 L606.5,251.57 L606.5,252.29 L608.44,252.29 L608.44,251.19 L610.38,251.19 L610.38,252.27 L612.31,252.27 L612.31,252.01 L614.25,252.01 L614.25,251.48 L616.18,251.48 L616.18,251.65 L618.12,251.65 L618.12,251.71 L620.05,251.71 L620.05,251.58 L621.99,251.58 L621.99,251.84 L623.92,251.84 L623.92,252.03 L625.86,252.03 L625.86,252.22 L627.79,252.22 L627.79,252.36 L629.73,252.36 L629.73,251.49 L631.66,251.49 L631.66,251.43 L633.6,251.43 L633.6,251.72 L635.53,251.72 L635.53,251.46 L637.47,251.46 L637.47,251.97 L639.4,251.97 L639.4,252.1 L641.34,252.1 L641.34,251.94 L643.27,251.94 L643.27,251.27 L645.21,251.27 L645.21,252.4 L647.14,252.4 L647.14,251.77 L649.08,251.77 L649.08,252.14 L651.01,252.14 L651.01,251.46 L652.95,251.46 L652.95,252.05 L654.88,252.05 L654.88,252.11 L656.82,252.11 L656.82,252.04 L658.75,252.04 L658.75,251.89 L660.69,251.89 L660.69,251.62 L662.62,251.62 L662.62,252.2 L664.56,252.2 L664.56,251.59 L666.49,251.59 L666.49,252.56 L668.43,252.56 L668.43,252.39 L670.36,252.39 L670.36,252.63 L672.3,252.63 L672.3,252.64 L674.23,252.64 L674.23,211.1 L676.16,211.1 L676.16,211.1 L678.1,211.1 L678.1,256.3 Z" fill="#dcf2d3" stroke="none"/>
<line x1="542.55" y1="21" x2="542.55" y2="256" stroke="#93bdd6" stroke-width="1.3" stroke-dasharray="7.6 7.54"/>
<line x1="599.91" y1="21" x2="599.91" y2="256" stroke="#f3a9a9" stroke-width="1.3" stroke-dasharray="7.6 7.54"/>
<line x1="657.09" y1="21" x2="657.09" y2="256" stroke="#cdeec3" stroke-width="1.3" stroke-dasharray="7.6 7.54"/>
<rect x="484.6" y="9.5" width="193.5" height="45.2" fill="none" stroke="#333" stroke-width="1.4" />
<line x1="482.2" y1="9.5" x2="484.6" y2="9.5" stroke="#000" stroke-width="1" />
<text x="482.8" y="14.5" font-size="10.4" text-anchor="end" fill="#111" >10</text>
<line x1="482.2" y1="32.1" x2="484.6" y2="32.1" stroke="#000" stroke-width="1" />
<text x="482.8" y="36.6" font-size="10.4" text-anchor="end" fill="#111" >5</text>
<line x1="482.2" y1="54.7" x2="484.6" y2="54.7" stroke="#000" stroke-width="1" />
<text x="482.8" y="54.9" font-size="10.4" text-anchor="end" fill="#111" >0</text>
<text x="673" y="19.7" font-size="10.5" text-anchor="end" fill="#111" >Experimental</text>
<rect x="484.6" y="60.3" width="193.5" height="45.2" fill="none" stroke="#333" stroke-width="1.4" />
<line x1="482.2" y1="60.3" x2="484.6" y2="60.3" stroke="#000" stroke-width="1" />
<text x="482.8" y="65.3" font-size="10.4" text-anchor="end" fill="#111" >10</text>
<line x1="482.2" y1="82.9" x2="484.6" y2="82.9" stroke="#000" stroke-width="1" />
<text x="482.8" y="87.4" font-size="10.4" text-anchor="end" fill="#111" >5</text>
<line x1="482.2" y1="105.5" x2="484.6" y2="105.5" stroke="#000" stroke-width="1" />
<text x="482.8" y="105.7" font-size="10.4" text-anchor="end" fill="#111" >0</text>
<text x="664.4" y="74.9" font-size="10.5" text-anchor="end" fill="#111" >Basenji2</text>
<rect x="484.6" y="109.8" width="193.5" height="45.2" fill="none" stroke="#333" stroke-width="1.4" />
<line x1="482.2" y1="109.8" x2="484.6" y2="109.8" stroke="#000" stroke-width="1" />
<text x="482.8" y="114.8" font-size="10.4" text-anchor="end" fill="#111" >10</text>
<line x1="482.2" y1="132.4" x2="484.6" y2="132.4" stroke="#000" stroke-width="1" />
<text x="482.8" y="136.9" font-size="10.4" text-anchor="end" fill="#111" >5</text>
<line x1="482.2" y1="155" x2="484.6" y2="155" stroke="#000" stroke-width="1" />
<text x="482.8" y="155.2" font-size="10.4" text-anchor="end" fill="#111" >0</text>
<text x="662.9" y="122.6" font-size="10.5" text-anchor="end" fill="#111" >Xpresso</text>
<rect x="484.6" y="160.4" width="193.5" height="45.2" fill="none" stroke="#333" stroke-width="1.4" />
<line x1="482.2" y1="160.4" x2="484.6" y2="160.4" stroke="#000" stroke-width="1" />
<text x="482.8" y="165.4" font-size="10.4" text-anchor="end" fill="#111" >10</text>
<line x1="482.2" y1="183" x2="484.6" y2="183" stroke="#000" stroke-width="1" />
<text x="482.8" y="187.5" font-size="10.4" text-anchor="end" fill="#111" >5</text>
<line x1="482.2" y1="205.6" x2="484.6" y2="205.6" stroke="#000" stroke-width="1" />
<text x="482.8" y="205.8" font-size="10.4" text-anchor="end" fill="#111" >0</text>
<text x="668.2" y="173.4" font-size="10.5" text-anchor="end" fill="#111" >PhytoExpr</text>
<rect x="484.6" y="211.1" width="193.5" height="45.2" fill="none" stroke="#333" stroke-width="1.4" />
<line x1="482.2" y1="211.1" x2="484.6" y2="211.1" stroke="#000" stroke-width="1" />
<text x="482.8" y="216.1" font-size="10.4" text-anchor="end" fill="#111" >10</text>
<line x1="482.2" y1="233.7" x2="484.6" y2="233.7" stroke="#000" stroke-width="1" />
<text x="482.8" y="238.2" font-size="10.4" text-anchor="end" fill="#111" >5</text>
<line x1="482.2" y1="256.3" x2="484.6" y2="256.3" stroke="#000" stroke-width="1" />
<text x="482.8" y="259.6" font-size="10.4" text-anchor="end" fill="#111" >0</text>
<text x="668.7" y="221.9" font-size="10.5" text-anchor="end" fill="#111" >DeepEXP</text>
<text x="670.3" y="234" font-size="10.5" text-anchor="end" fill="#111" >(Seq + Epi)</text>
<line x1="484.8" y1="256.3" x2="484.8" y2="259.3" stroke="#000" stroke-width="1" />
<text x="486.2" y="267.8" font-size="10.5" text-anchor="middle" fill="#111" >0</text>
<line x1="523.3" y1="256.3" x2="523.3" y2="259.3" stroke="#000" stroke-width="1" />
<text x="524.7" y="267.8" font-size="10.5" text-anchor="middle" fill="#111" >0.2</text>
<line x1="561.8" y1="256.3" x2="561.8" y2="259.3" stroke="#000" stroke-width="1" />
<text x="563.2" y="267.8" font-size="10.5" text-anchor="middle" fill="#111" >0.4</text>
<line x1="600.3" y1="256.3" x2="600.3" y2="259.3" stroke="#000" stroke-width="1" />
<text x="601.7" y="267.8" font-size="10.5" text-anchor="middle" fill="#111" >0.6</text>
<line x1="638.8" y1="256.3" x2="638.8" y2="259.3" stroke="#000" stroke-width="1" />
<text x="640.2" y="267.8" font-size="10.5" text-anchor="middle" fill="#111" >0.8</text>
<line x1="677.3" y1="256.3" x2="677.3" y2="259.3" stroke="#000" stroke-width="1" />
<text x="678.7" y="267.8" font-size="10.5" text-anchor="middle" fill="#111" >1.0</text>
<text x="578.6" y="276" font-size="10.6" text-anchor="middle" fill="#111" >Tissue specificity index (Tau score)</text>
<text x="467" y="128.9" font-size="10.6" text-anchor="middle" fill="#111" transform="rotate(-90 467 128.9)" >Frequency (%)</text>
<rect x="509.4" y="289.6" width="170.9" height="129.4" fill="#fff" stroke="#1a1a1a" stroke-width="1.3" />
<line x1="506.4" y1="414.9" x2="509.4" y2="414.9" stroke="#000" stroke-width="1.1" />
<text x="506.6" y="418.6" font-size="10.5" text-anchor="end" fill="#111" >0</text>
<line x1="506.4" y1="380.2" x2="509.4" y2="380.2" stroke="#000" stroke-width="1.1" />
<text x="506.6" y="383.9" font-size="10.5" text-anchor="end" fill="#111" >0.25</text>
<line x1="506.4" y1="345.5" x2="509.4" y2="345.5" stroke="#000" stroke-width="1.1" />
<text x="506.6" y="349.2" font-size="10.5" text-anchor="end" fill="#111" >0.50</text>
<line x1="506.4" y1="310.8" x2="509.4" y2="310.8" stroke="#000" stroke-width="1.1" />
<text x="506.6" y="314.5" font-size="10.5" text-anchor="end" fill="#111" >0.75</text>
<text x="473.3" y="354.1" font-size="8.9" text-anchor="middle" fill="#111" transform="rotate(-90 473.3 354.1)" >PCC of prediction with</text>
<text x="483.9" y="353.6" font-size="8.8" text-anchor="middle" fill="#111" transform="rotate(-90 483.9 353.6)" >sequence + one epigenomic feature</text>
<rect x="516.2" y="307.4" width="19.6" height="107.5" fill="#e6c1a3" stroke="#1a1a1a" stroke-width="1.2" />
<line x1="526" y1="419" x2="526" y2="422" stroke="#000" stroke-width="1.1" />
<text x="528.2" y="427" font-size="10.9" text-anchor="end" fill="#111" transform="rotate(-45 528.2 427)" >TIS</text>
<rect x="543.82" y="308" width="19.6" height="106.9" fill="#e6c1a3" stroke="#1a1a1a" stroke-width="1.2" />
<line x1="553.62" y1="419" x2="553.62" y2="422" stroke="#000" stroke-width="1.1" />
<text x="556.62" y="427" font-size="10.9" text-anchor="end" fill="#111" transform="rotate(-45 556.62 427)" >H3K27ac</text>
<rect x="571.44" y="316.5" width="19.6" height="98.4" fill="#e6c1a3" stroke="#1a1a1a" stroke-width="1.2" />
<line x1="581.24" y1="419" x2="581.24" y2="422" stroke="#000" stroke-width="1.1" />
<text x="583.44" y="427" font-size="10.9" text-anchor="end" fill="#111" transform="rotate(-45 583.44 427)" >H3K27me3</text>
<rect x="599.06" y="316.5" width="19.6" height="98.4" fill="#e6c1a3" stroke="#1a1a1a" stroke-width="1.2" />
<line x1="608.86" y1="419" x2="608.86" y2="422" stroke="#000" stroke-width="1.1" />
<text x="612.56" y="427" font-size="10.9" text-anchor="end" fill="#111" transform="rotate(-45 612.56 427)" >H3K36me3</text>
<rect x="626.68" y="306.4" width="19.6" height="108.5" fill="#e6c1a3" stroke="#1a1a1a" stroke-width="1.2" />
<line x1="636.48" y1="419" x2="636.48" y2="422" stroke="#000" stroke-width="1.1" />
<text x="642.58" y="427" font-size="10.9" text-anchor="end" fill="#111" transform="rotate(-45 642.58 427)" >H3K4me3</text>
<rect x="654.3" y="297.5" width="19.6" height="117.4" fill="#d3a2d1" stroke="#1a1a1a" stroke-width="1.2" />
<line x1="664.1" y1="419" x2="664.1" y2="422" stroke="#000" stroke-width="1.1" />
<text x="669.4" y="427" font-size="10.9" text-anchor="end" fill="#111" transform="rotate(-45 669.4 427)" >All</text>
<ellipse cx="523.8" cy="301.3" rx="1.9" ry="1.5" fill="#000"/>
<ellipse cx="525.7" cy="306.5" rx="1.9" ry="1.5" fill="#000"/>
<ellipse cx="530.5" cy="305.4" rx="1.9" ry="1.5" fill="#000"/>
<ellipse cx="520.8" cy="310.8" rx="1.9" ry="1.5" fill="#000"/>
<ellipse cx="524.9" cy="312.1" rx="1.9" ry="1.5" fill="#000"/>
<ellipse cx="529.4" cy="312.9" rx="1.9" ry="1.5" fill="#000"/>
<ellipse cx="526.5" cy="308" rx="1.9" ry="1.5" fill="#000"/>
<ellipse cx="553.8" cy="302.4" rx="1.9" ry="1.5" fill="#000"/>
<ellipse cx="553.8" cy="306.5" rx="1.9" ry="1.5" fill="#000"/>
<ellipse cx="558.6" cy="307.3" rx="1.9" ry="1.5" fill="#000"/>
<ellipse cx="553" cy="312.1" rx="1.9" ry="1.5" fill="#000"/>
<ellipse cx="557.8" cy="314" rx="1.9" ry="1.5" fill="#000"/>
<ellipse cx="554.6" cy="310.5" rx="1.9" ry="1.5" fill="#000"/>
<ellipse cx="578.7" cy="311.3" rx="1.9" ry="1.5" fill="#000"/>
<ellipse cx="584.3" cy="308.1" rx="1.9" ry="1.5" fill="#000"/>
<ellipse cx="581.1" cy="314" rx="1.9" ry="1.5" fill="#000"/>
<ellipse cx="576.3" cy="318.5" rx="1.9" ry="1.5" fill="#000"/>
<ellipse cx="582.2" cy="322.8" rx="1.9" ry="1.5" fill="#000"/>
<ellipse cx="576.7" cy="330.2" rx="1.9" ry="1.5" fill="#000"/>
<ellipse cx="585.9" cy="308.1" rx="1.9" ry="1.5" fill="#000"/>
<ellipse cx="607.4" cy="307.7" rx="1.9" ry="1.5" fill="#000"/>
<ellipse cx="611.6" cy="307.7" rx="1.9" ry="1.5" fill="#000"/>
<ellipse cx="609.3" cy="312.8" rx="1.9" ry="1.5" fill="#000"/>
<ellipse cx="614.2" cy="318.3" rx="1.9" ry="1.5" fill="#000"/>
<ellipse cx="613.8" cy="322.9" rx="1.9" ry="1.5" fill="#000"/>
<ellipse cx="612.9" cy="330.2" rx="1.9" ry="1.5" fill="#000"/>
<ellipse cx="608.4" cy="315.6" rx="1.9" ry="1.5" fill="#000"/>
<ellipse cx="638.1" cy="298.6" rx="1.9" ry="1.5" fill="#000"/>
<ellipse cx="637.6" cy="302.8" rx="1.9" ry="1.5" fill="#000"/>
<ellipse cx="634.8" cy="305" rx="1.9" ry="1.5" fill="#000"/>
<ellipse cx="636.6" cy="307.4" rx="1.9" ry="1.5" fill="#000"/>
<ellipse cx="632.6" cy="317.4" rx="1.9" ry="1.5" fill="#000"/>
<ellipse cx="638.5" cy="305.5" rx="1.9" ry="1.5" fill="#000"/>
<ellipse cx="669.1" cy="292.4" rx="1.9" ry="1.5" fill="#000"/>
<ellipse cx="658.5" cy="298.2" rx="1.9" ry="1.5" fill="#000"/>
<ellipse cx="664" cy="297.3" rx="1.9" ry="1.5" fill="#000"/>
<ellipse cx="667.7" cy="297.3" rx="1.9" ry="1.5" fill="#000"/>
<ellipse cx="668.6" cy="301" rx="1.9" ry="1.5" fill="#000"/>
<ellipse cx="665.8" cy="298.2" rx="1.9" ry="1.5" fill="#000"/>
<line x1="526" y1="307.4" x2="526" y2="303.9" stroke="#000" stroke-width="1.1" />
<line x1="524.5" y1="303.9" x2="527.5" y2="303.9" stroke="#000" stroke-width="1.1" />
<line x1="553.62" y1="308" x2="553.62" y2="304.5" stroke="#000" stroke-width="1.1" />
<line x1="552.12" y1="304.5" x2="555.12" y2="304.5" stroke="#000" stroke-width="1.1" />
<line x1="581.24" y1="316.5" x2="581.24" y2="310" stroke="#000" stroke-width="1.1" />
<line x1="579.74" y1="310" x2="582.74" y2="310" stroke="#000" stroke-width="1.1" />
<line x1="608.86" y1="316.5" x2="608.86" y2="310" stroke="#000" stroke-width="1.1" />
<line x1="607.36" y1="310" x2="610.36" y2="310" stroke="#000" stroke-width="1.1" />
<line x1="636.48" y1="306.4" x2="636.48" y2="302.9" stroke="#000" stroke-width="1.1" />
<line x1="634.98" y1="302.9" x2="637.98" y2="302.9" stroke="#000" stroke-width="1.1" />
<line x1="664.1" y1="297.5" x2="664.1" y2="295.5" stroke="#000" stroke-width="1.1" />
<line x1="662.6" y1="295.5" x2="665.6" y2="295.5" stroke="#000" stroke-width="1.1" />
<rect x="512.3" y="469.4" width="168.1" height="134.5" fill="#fff" stroke="#1a1a1a" stroke-width="1.3" />
<line x1="509.3" y1="601.3" x2="512.3" y2="601.3" stroke="#000" stroke-width="1.1" />
<text x="509.2" y="605.7" font-size="10.5" text-anchor="end" fill="#111" >0</text>
<line x1="509.3" y1="568.9" x2="512.3" y2="568.9" stroke="#000" stroke-width="1.1" />
<text x="509.2" y="573.3" font-size="10.5" text-anchor="end" fill="#111" >0.25</text>
<line x1="509.3" y1="536.5" x2="512.3" y2="536.5" stroke="#000" stroke-width="1.1" />
<text x="509.2" y="540.9" font-size="10.5" text-anchor="end" fill="#111" >0.50</text>
<line x1="509.3" y1="504.1" x2="512.3" y2="504.1" stroke="#000" stroke-width="1.1" />
<text x="509.2" y="508.5" font-size="10.5" text-anchor="end" fill="#111" >0.75</text>
<line x1="509.3" y1="471.7" x2="512.3" y2="471.7" stroke="#000" stroke-width="1.1" />
<text x="509.2" y="476.1" font-size="10.5" text-anchor="end" fill="#111" >1.00</text>
<text x="473.3" y="548.7" font-size="8.9" text-anchor="middle" fill="#111" transform="rotate(-90 473.3 548.7)" >PCC of prediction with</text>
<text x="482.6" y="545.6" font-size="8.6" text-anchor="middle" fill="#111" transform="rotate(-90 482.6 545.6)" >sequence + epigenomic in other tissues</text>
<rect x="516.3" y="512.6" width="11.5" height="87.7" fill="#e8c7b9" stroke="#1a1a1a" stroke-width="1.2" />
<rect x="532.5" y="488.3" width="11.5" height="112" fill="#e8c7b9" stroke="#1a1a1a" stroke-width="1.2" />
<rect x="548.7" y="498" width="11.5" height="102.3" fill="#e8c7b9" stroke="#1a1a1a" stroke-width="1.2" />
<rect x="564.6" y="496.5" width="11.5" height="103.8" fill="#e8c7b9" stroke="#1a1a1a" stroke-width="1.2" />
<rect x="581.4" y="494.3" width="11.5" height="106" fill="#e8c7b9" stroke="#1a1a1a" stroke-width="1.2" />
<rect x="603.8" y="553.6" width="11.7" height="46.7" fill="#d3a2d1" stroke="#1a1a1a" stroke-width="1.2" />
<rect x="620.4" y="495.2" width="11.7" height="105.1" fill="#d3a2d1" stroke="#1a1a1a" stroke-width="1.2" />
<rect x="636.3" y="510.2" width="11.7" height="90.1" fill="#d3a2d1" stroke="#1a1a1a" stroke-width="1.2" />
<rect x="652.2" y="498" width="11.7" height="102.3" fill="#d3a2d1" stroke="#1a1a1a" stroke-width="1.2" />
<rect x="666" y="510.2" width="11.7" height="90.1" fill="#d3a2d1" stroke="#1a1a1a" stroke-width="1.2" />
<text x="524" y="481.6" font-size="10.5" text-anchor="start" fill="#111" >Spike&#160; Models</text>
<text x="610.2" y="481.6" font-size="10.5" text-anchor="start" fill="#111" >Leaf&#160; Models</text>
<line x1="515.5" y1="486.5" x2="592.8" y2="486.5" stroke="#000" stroke-width="1.2" />
<line x1="603.8" y1="486.5" x2="680.4" y2="486.5" stroke="#000" stroke-width="1.2" />
<line x1="522.05" y1="603.9" x2="522.05" y2="606.9" stroke="#000" stroke-width="1.1" />
<text x="525.35" y="611.8" font-size="10.6" text-anchor="end" fill="#111" transform="rotate(-45 525.35 611.8)" >Sequence</text>
<line x1="538.25" y1="603.9" x2="538.25" y2="606.9" stroke="#000" stroke-width="1.1" />
<text x="541.55" y="611.8" font-size="10.6" text-anchor="end" fill="#111" transform="rotate(-45 541.55 611.8)" >Spike</text>
<line x1="554.45" y1="603.9" x2="554.45" y2="606.9" stroke="#000" stroke-width="1.1" />
<text x="557.75" y="611.8" font-size="10.6" text-anchor="end" fill="#111" transform="rotate(-45 557.75 611.8)" >Leaf</text>
<line x1="570.35" y1="603.9" x2="570.35" y2="606.9" stroke="#000" stroke-width="1.1" />
<text x="573.65" y="611.8" font-size="10.6" text-anchor="end" fill="#111" transform="rotate(-45 573.65 611.8)" >Vernalized Leaf</text>
<line x1="587.15" y1="603.9" x2="587.15" y2="606.9" stroke="#000" stroke-width="1.1" />
<text x="590.45" y="611.8" font-size="10.6" text-anchor="end" fill="#111" transform="rotate(-45 590.45 611.8)" >5-DAP seed</text>
<line x1="609.7" y1="603.9" x2="609.7" y2="606.9" stroke="#000" stroke-width="1.1" />
<text x="612.95" y="611.8" font-size="10.6" text-anchor="end" fill="#111" transform="rotate(-45 612.95 611.8)" >Sequence</text>
<line x1="625.8" y1="603.9" x2="625.8" y2="606.9" stroke="#000" stroke-width="1.1" />
<text x="629.95" y="611.8" font-size="10.6" text-anchor="end" fill="#111" transform="rotate(-45 629.95 611.8)" >Leaf</text>
<line x1="641.9" y1="603.9" x2="641.9" y2="606.9" stroke="#000" stroke-width="1.1" />
<text x="647.2" y="611.8" font-size="10.6" text-anchor="end" fill="#111" transform="rotate(-45 647.2 611.8)" >Spike</text>
<line x1="658.2" y1="603.9" x2="658.2" y2="606.9" stroke="#000" stroke-width="1.1" />
<text x="663.6" y="611.8" font-size="10.6" text-anchor="end" fill="#111" transform="rotate(-45 663.6 611.8)" >Vernalized Leaf</text>
<line x1="674.6" y1="603.9" x2="674.6" y2="606.9" stroke="#000" stroke-width="1.1" />
<text x="679.8" y="611.8" font-size="10.6" text-anchor="end" fill="#111" transform="rotate(-45 679.8 611.8)" >5-DAP seed</text>
<text x="524.8" y="673.8" font-size="10.6" text-anchor="start" fill="#111" >Source of epigenomic data</text>
</svg>
</body></html>
